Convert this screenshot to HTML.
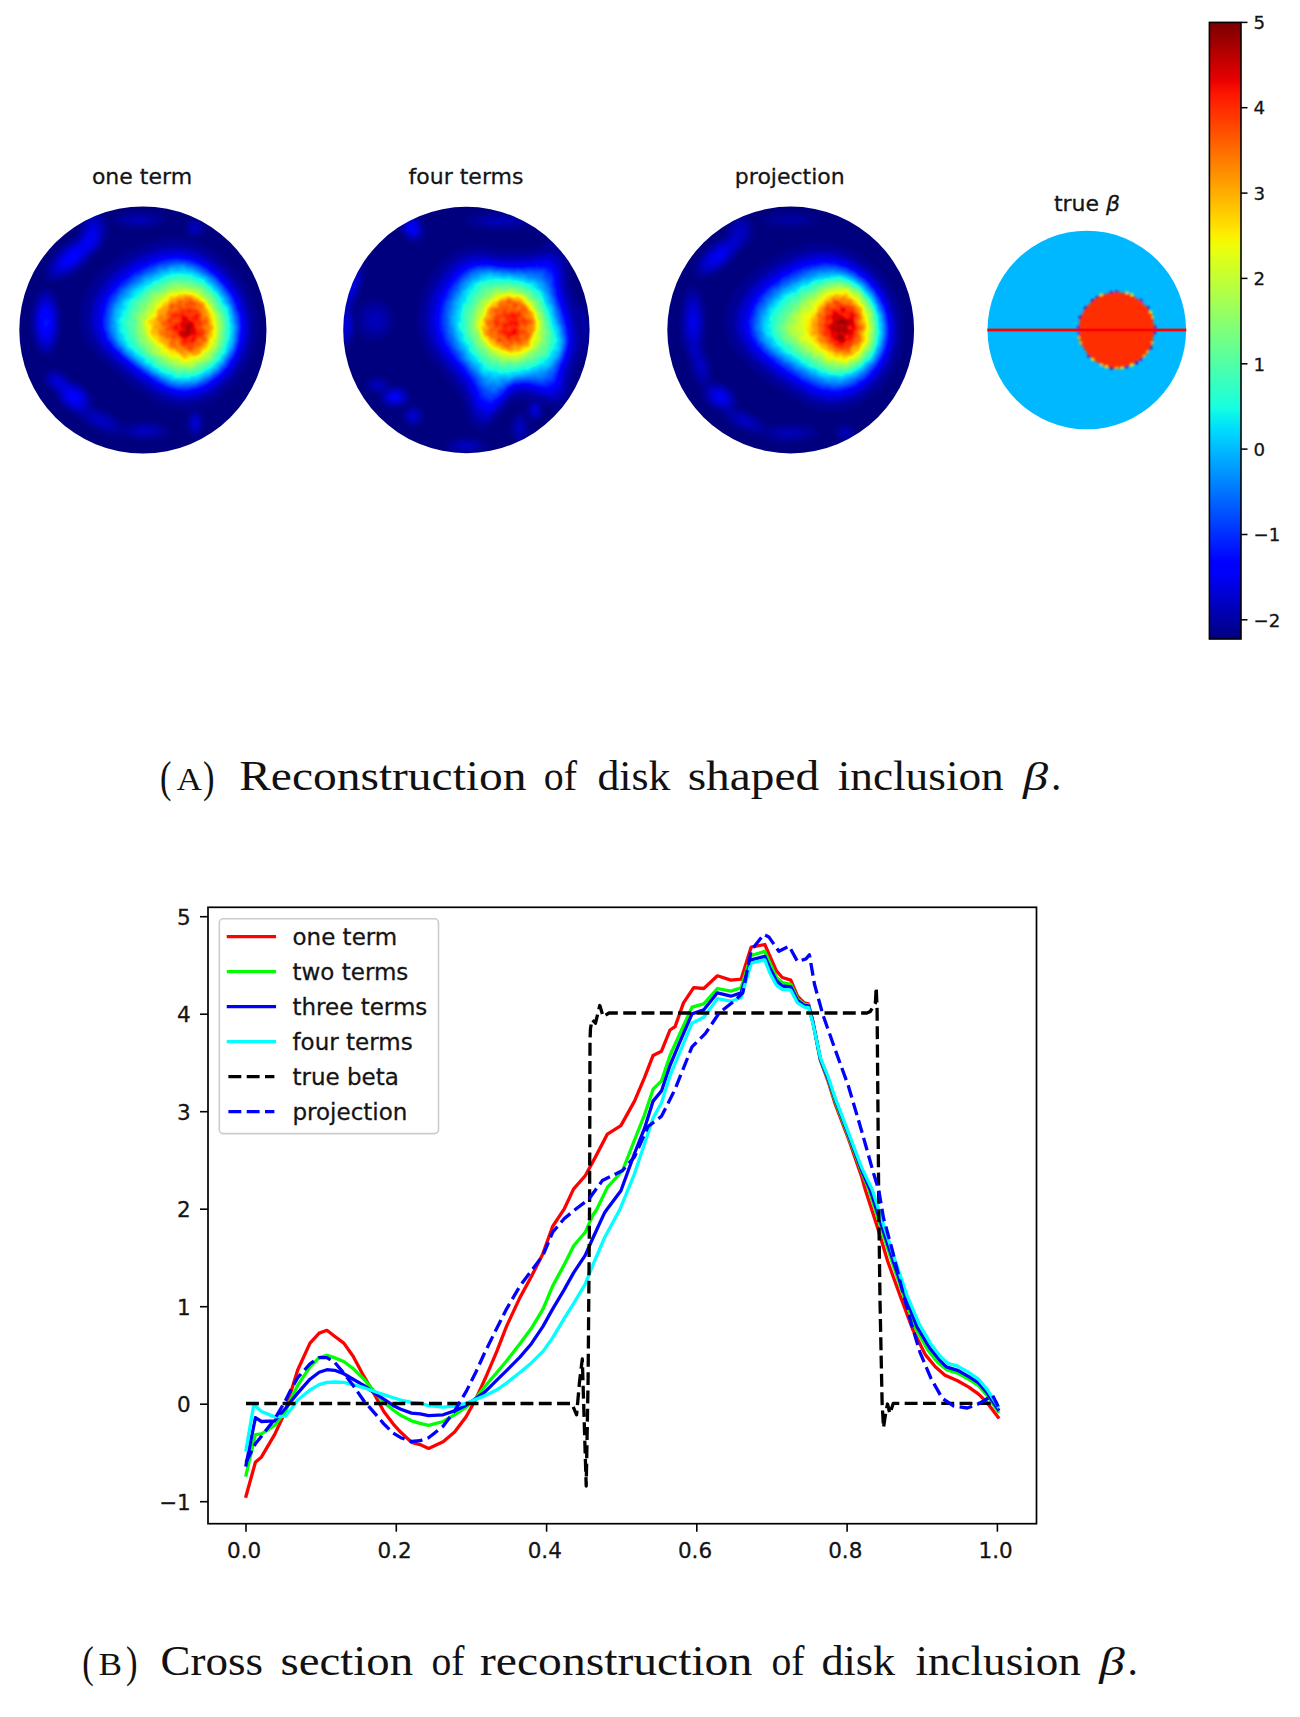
<!DOCTYPE html><html><head><meta charset="utf-8"><title>figure</title>
<style>html,body{margin:0;padding:0;background:#fff}body{width:1300px;height:1717px;overflow:hidden;position:relative}svg{position:absolute;left:0;top:0;display:block}text{font-family:"DejaVu Sans","Liberation Sans",sans-serif;fill:#141414;stroke:#141414;stroke-width:0.28px}.cap text,text.cap{font-family:"Liberation Serif","DejaVu Serif",serif;fill:#111;stroke:none}</style></head><body>
<svg width="1300" height="1717" viewBox="0 0 1300 1717">
<defs>
<filter id="jet" x="0" y="0" width="100%" height="100%" color-interpolation-filters="sRGB"><feComponentTransfer><feFuncR type="table" tableValues="0.000 0.000 0.000 0.000 0.000 0.000 0.000 0.000 0.000 0.000 0.000 0.000 0.000 0.000 0.000 0.000 0.000 0.000 0.000 0.000 0.000 0.000 0.000 0.035 0.085 0.136 0.187 0.237 0.288 0.338 0.389 0.440 0.490 0.541 0.591 0.642 0.693 0.743 0.794 0.844 0.895 0.946 0.996 1.000 1.000 1.000 1.000 1.000 1.000 1.000 1.000 1.000 1.000 1.000 1.000 1.000 1.000 0.981 0.910 0.839 0.767 0.696 0.625 0.553 0.500"/><feFuncG type="table" tableValues="0.000 0.000 0.000 0.000 0.000 0.000 0.000 0.000 0.002 0.065 0.127 0.190 0.253 0.316 0.378 0.441 0.504 0.567 0.629 0.692 0.755 0.818 0.880 0.943 1.000 1.000 1.000 1.000 1.000 1.000 1.000 1.000 1.000 1.000 1.000 1.000 1.000 1.000 1.000 1.000 1.000 0.988 0.930 0.872 0.814 0.756 0.698 0.640 0.582 0.524 0.466 0.407 0.349 0.291 0.233 0.175 0.117 0.059 0.001 0.000 0.000 0.000 0.000 0.000 0.000"/><feFuncB type="table" tableValues="0.500 0.571 0.643 0.714 0.785 0.857 0.928 0.999 1.000 1.000 1.000 1.000 1.000 1.000 1.000 1.000 1.000 1.000 1.000 1.000 1.000 1.000 0.984 0.933 0.882 0.832 0.781 0.731 0.680 0.629 0.579 0.528 0.478 0.427 0.376 0.326 0.275 0.225 0.174 0.123 0.073 0.022 0.000 0.000 0.000 0.000 0.000 0.000 0.000 0.000 0.000 0.000 0.000 0.000 0.000 0.000 0.000 0.000 0.000 0.000 0.000 0.000 0.000 0.000 0.000"/></feComponentTransfer></filter>
<filter id="b3" x="-50%" y="-50%" width="200%" height="200%"><feGaussianBlur stdDeviation="5"/></filter>
<filter id="b2" x="-50%" y="-50%" width="200%" height="200%"><feGaussianBlur stdDeviation="3"/></filter>
<filter id="soft2" x="-5%" y="-5%" width="110%" height="110%"><feGaussianBlur stdDeviation="0.85"/></filter>
<filter id="soft" x="-5%" y="-5%" width="110%" height="110%"><feGaussianBlur stdDeviation="0.7"/></filter>
<radialGradient id="g1" gradientUnits="userSpaceOnUse" cx="170.0" cy="325.0" r="78.0" fx="188.0" fy="329.0" ><stop offset="0.000" stop-color="#fff" stop-opacity="1.000"/><stop offset="0.100" stop-color="#fff" stop-opacity="0.970"/><stop offset="0.220" stop-color="#fff" stop-opacity="0.900"/><stop offset="0.330" stop-color="#fff" stop-opacity="0.820"/><stop offset="0.450" stop-color="#fff" stop-opacity="0.640"/><stop offset="0.580" stop-color="#fff" stop-opacity="0.460"/><stop offset="0.720" stop-color="#fff" stop-opacity="0.300"/><stop offset="0.850" stop-color="#fff" stop-opacity="0.150"/><stop offset="0.940" stop-color="#fff" stop-opacity="0.060"/><stop offset="1.000" stop-color="#fff" stop-opacity="0.000"/></radialGradient>
<radialGradient id="g2" gradientUnits="userSpaceOnUse" cx="502.0" cy="326.0" r="70.0" fx="511.5" fy="328.0" ><stop offset="0.000" stop-color="#fff" stop-opacity="0.930"/><stop offset="0.100" stop-color="#fff" stop-opacity="0.910"/><stop offset="0.220" stop-color="#fff" stop-opacity="0.860"/><stop offset="0.330" stop-color="#fff" stop-opacity="0.780"/><stop offset="0.450" stop-color="#fff" stop-opacity="0.620"/><stop offset="0.580" stop-color="#fff" stop-opacity="0.450"/><stop offset="0.720" stop-color="#fff" stop-opacity="0.300"/><stop offset="0.850" stop-color="#fff" stop-opacity="0.150"/><stop offset="0.940" stop-color="#fff" stop-opacity="0.060"/><stop offset="1.000" stop-color="#fff" stop-opacity="0.000"/></radialGradient>
<radialGradient id="g3" gradientUnits="userSpaceOnUse" cx="817.0" cy="328.0" r="75.0" fx="841.0" fy="328.0" gradientTransform="translate(0 328) scale(1 0.92) translate(0 -328)"><stop offset="0.000" stop-color="#fff" stop-opacity="1.000"/><stop offset="0.100" stop-color="#fff" stop-opacity="0.980"/><stop offset="0.220" stop-color="#fff" stop-opacity="0.920"/><stop offset="0.330" stop-color="#fff" stop-opacity="0.830"/><stop offset="0.450" stop-color="#fff" stop-opacity="0.640"/><stop offset="0.580" stop-color="#fff" stop-opacity="0.460"/><stop offset="0.720" stop-color="#fff" stop-opacity="0.300"/><stop offset="0.850" stop-color="#fff" stop-opacity="0.150"/><stop offset="0.940" stop-color="#fff" stop-opacity="0.060"/><stop offset="1.000" stop-color="#fff" stop-opacity="0.000"/></radialGradient>
<radialGradient id="pt"><stop offset="0" stop-color="#fff" stop-opacity="1"/><stop offset="0.5" stop-color="#fff" stop-opacity="0.55"/><stop offset="1" stop-color="#fff" stop-opacity="0"/></radialGradient>
<linearGradient id="cb" x1="0" y1="1" x2="0" y2="0">
<stop offset="0.0000" stop-color="#000080"/>
<stop offset="0.0156" stop-color="#000092"/>
<stop offset="0.0312" stop-color="#0000a4"/>
<stop offset="0.0469" stop-color="#0000b6"/>
<stop offset="0.0625" stop-color="#0000c8"/>
<stop offset="0.0781" stop-color="#0000da"/>
<stop offset="0.0938" stop-color="#0000ed"/>
<stop offset="0.1094" stop-color="#0000ff"/>
<stop offset="0.1250" stop-color="#0000ff"/>
<stop offset="0.1406" stop-color="#0010ff"/>
<stop offset="0.1562" stop-color="#0020ff"/>
<stop offset="0.1719" stop-color="#0030ff"/>
<stop offset="0.1875" stop-color="#0040ff"/>
<stop offset="0.2031" stop-color="#0050ff"/>
<stop offset="0.2188" stop-color="#0060ff"/>
<stop offset="0.2344" stop-color="#0070ff"/>
<stop offset="0.2500" stop-color="#0080ff"/>
<stop offset="0.2656" stop-color="#0090ff"/>
<stop offset="0.2812" stop-color="#00a0ff"/>
<stop offset="0.2969" stop-color="#00b0ff"/>
<stop offset="0.3125" stop-color="#00c0ff"/>
<stop offset="0.3281" stop-color="#00d0ff"/>
<stop offset="0.3438" stop-color="#00e0fb"/>
<stop offset="0.3594" stop-color="#09f0ee"/>
<stop offset="0.3750" stop-color="#16ffe1"/>
<stop offset="0.3906" stop-color="#23ffd4"/>
<stop offset="0.4062" stop-color="#30ffc7"/>
<stop offset="0.4219" stop-color="#3cffba"/>
<stop offset="0.4375" stop-color="#49ffad"/>
<stop offset="0.4531" stop-color="#56ffa0"/>
<stop offset="0.4688" stop-color="#63ff94"/>
<stop offset="0.4844" stop-color="#70ff87"/>
<stop offset="0.5000" stop-color="#7dff7a"/>
<stop offset="0.5156" stop-color="#8aff6d"/>
<stop offset="0.5312" stop-color="#97ff60"/>
<stop offset="0.5469" stop-color="#a4ff53"/>
<stop offset="0.5625" stop-color="#b1ff46"/>
<stop offset="0.5781" stop-color="#beff39"/>
<stop offset="0.5938" stop-color="#caff2c"/>
<stop offset="0.6094" stop-color="#d7ff1f"/>
<stop offset="0.6250" stop-color="#e4ff13"/>
<stop offset="0.6406" stop-color="#f1fc06"/>
<stop offset="0.6562" stop-color="#feed00"/>
<stop offset="0.6719" stop-color="#ffde00"/>
<stop offset="0.6875" stop-color="#ffd000"/>
<stop offset="0.7031" stop-color="#ffc100"/>
<stop offset="0.7188" stop-color="#ffb200"/>
<stop offset="0.7344" stop-color="#ffa300"/>
<stop offset="0.7500" stop-color="#ff9400"/>
<stop offset="0.7656" stop-color="#ff8600"/>
<stop offset="0.7812" stop-color="#ff7700"/>
<stop offset="0.7969" stop-color="#ff6800"/>
<stop offset="0.8125" stop-color="#ff5900"/>
<stop offset="0.8281" stop-color="#ff4a00"/>
<stop offset="0.8438" stop-color="#ff3b00"/>
<stop offset="0.8594" stop-color="#ff2d00"/>
<stop offset="0.8750" stop-color="#ff1e00"/>
<stop offset="0.8906" stop-color="#fa0f00"/>
<stop offset="0.9062" stop-color="#e80000"/>
<stop offset="0.9219" stop-color="#d60000"/>
<stop offset="0.9375" stop-color="#c40000"/>
<stop offset="0.9531" stop-color="#b20000"/>
<stop offset="0.9688" stop-color="#9f0000"/>
<stop offset="0.9844" stop-color="#8d0000"/>
<stop offset="1.0000" stop-color="#800000"/>
</linearGradient>
<clipPath id="cdisc"><circle cx="142.9" cy="330" r="123.6"/><circle cx="466.4" cy="330" r="123.2"/><circle cx="790.7" cy="330" r="123.4"/></clipPath>
<filter id="jetn" filterUnits="userSpaceOnUse" x="0" y="195" width="940" height="270" color-interpolation-filters="sRGB"><feGaussianBlur in="SourceGraphic" stdDeviation="2.2" result="bl"/><feTurbulence type="fractalNoise" baseFrequency="0.16" numOctaves="1" seed="3" result="tn"/><feColorMatrix in="tn" type="matrix" values="1 0 0 0 0 1 0 0 0 0 1 0 0 0 0 0 0 0 0 1" result="ng"/><feComposite in="bl" in2="ng" operator="arithmetic" k1="0.16" k2="0.92" k3="0" k4="0" result="nz"/><feComponentTransfer in="nz"><feFuncR type="table" tableValues="0.000 0.000 0.000 0.000 0.000 0.000 0.000 0.000 0.000 0.000 0.000 0.000 0.000 0.000 0.000 0.000 0.000 0.000 0.000 0.000 0.000 0.000 0.000 0.035 0.085 0.136 0.187 0.237 0.288 0.338 0.389 0.440 0.490 0.541 0.591 0.642 0.693 0.743 0.794 0.844 0.895 0.946 0.996 1.000 1.000 1.000 1.000 1.000 1.000 1.000 1.000 1.000 1.000 1.000 1.000 1.000 1.000 0.981 0.910 0.839 0.767 0.696 0.625 0.553 0.500"/><feFuncG type="table" tableValues="0.000 0.000 0.000 0.000 0.000 0.000 0.000 0.000 0.002 0.065 0.127 0.190 0.253 0.316 0.378 0.441 0.504 0.567 0.629 0.692 0.755 0.818 0.880 0.943 1.000 1.000 1.000 1.000 1.000 1.000 1.000 1.000 1.000 1.000 1.000 1.000 1.000 1.000 1.000 1.000 1.000 0.988 0.930 0.872 0.814 0.756 0.698 0.640 0.582 0.524 0.466 0.407 0.349 0.291 0.233 0.175 0.117 0.059 0.001 0.000 0.000 0.000 0.000 0.000 0.000"/><feFuncB type="table" tableValues="0.500 0.571 0.643 0.714 0.785 0.857 0.928 0.999 1.000 1.000 1.000 1.000 1.000 1.000 1.000 1.000 1.000 1.000 1.000 1.000 1.000 1.000 0.984 0.933 0.882 0.832 0.781 0.731 0.680 0.629 0.579 0.528 0.478 0.427 0.376 0.326 0.275 0.225 0.174 0.123 0.073 0.022 0.000 0.000 0.000 0.000 0.000 0.000 0.000 0.000 0.000 0.000 0.000 0.000 0.000 0.000 0.000 0.000 0.000 0.000 0.000 0.000 0.000 0.000 0.000"/><feFuncA type="linear" slope="0" intercept="1"/></feComponentTransfer></filter>
</defs>
<rect width="1300" height="1717" fill="#fff"/>
<g filter="url(#soft)"><g clip-path="url(#cdisc)"><g filter="url(#jetn)">
<rect x="0" y="195" width="940" height="270" fill="#000000"/>
<ellipse cx="72.0" cy="257.0" rx="35.2" ry="15.0" fill="url(#pt)" opacity="0.14" transform="rotate(-40 72.0 257.0)"/>
<ellipse cx="93.0" cy="232.0" rx="15.8" ry="22.9" fill="url(#pt)" opacity="0.10" transform="rotate(10 93.0 232.0)"/>
<ellipse cx="46.0" cy="322.0" rx="15.0" ry="35.2" fill="url(#pt)" opacity="0.16" transform="rotate(0 46.0 322.0)"/>
<ellipse cx="74.0" cy="397.0" rx="21.1" ry="15.0" fill="url(#pt)" opacity="0.14" transform="rotate(35 74.0 397.0)"/>
<ellipse cx="57.0" cy="381.0" rx="15.8" ry="11.4" fill="url(#pt)" opacity="0.09" transform="rotate(30 57.0 381.0)"/>
<ellipse cx="100.0" cy="420.0" rx="31.7" ry="11.4" fill="url(#pt)" opacity="0.07" transform="rotate(25 100.0 420.0)"/>
<ellipse cx="145.0" cy="431.0" rx="26.4" ry="9.7" fill="url(#pt)" opacity="0.07" transform="rotate(0 145.0 431.0)"/>
<ellipse cx="195.0" cy="423.0" rx="8.8" ry="15.0" fill="url(#pt)" opacity="0.09" transform="rotate(0 195.0 423.0)"/>
<ellipse cx="195.0" cy="228.0" rx="10.6" ry="10.6" fill="url(#pt)" opacity="0.07" transform="rotate(0 195.0 228.0)"/>
<ellipse cx="139.0" cy="220.0" rx="29.9" ry="8.8" fill="url(#pt)" opacity="0.06" transform="rotate(0 139.0 220.0)"/>
<ellipse cx="412.0" cy="228.0" rx="12.3" ry="15.8" fill="url(#pt)" opacity="0.13" transform="rotate(-30 412.0 228.0)"/>
<ellipse cx="352.0" cy="285.0" rx="10.6" ry="31.7" fill="url(#pt)" opacity="0.10" transform="rotate(15 352.0 285.0)"/>
<ellipse cx="347.0" cy="325.0" rx="7.9" ry="24.6" fill="url(#pt)" opacity="0.10" transform="rotate(0 347.0 325.0)"/>
<ellipse cx="375.0" cy="320.0" rx="21.1" ry="22.9" fill="url(#pt)" opacity="0.06" transform="rotate(0 375.0 320.0)"/>
<ellipse cx="548.0" cy="260.0" rx="14.0" ry="20.0" fill="url(#pt)" opacity="0.19" transform="rotate(25 548.0 260.0)"/>
<ellipse cx="556.0" cy="391.0" rx="12.0" ry="14.0" fill="url(#pt)" opacity="0.19" transform="rotate(0 556.0 391.0)"/>
<ellipse cx="535.0" cy="410.0" rx="8.8" ry="11.4" fill="url(#pt)" opacity="0.10" transform="rotate(0 535.0 410.0)"/>
<ellipse cx="395.0" cy="397.0" rx="15.8" ry="11.4" fill="url(#pt)" opacity="0.13" transform="rotate(0 395.0 397.0)"/>
<ellipse cx="413.0" cy="416.0" rx="10.6" ry="11.4" fill="url(#pt)" opacity="0.09" transform="rotate(0 413.0 416.0)"/>
<ellipse cx="378.0" cy="385.0" rx="13.2" ry="8.8" fill="url(#pt)" opacity="0.07" transform="rotate(0 378.0 385.0)"/>
<ellipse cx="466.0" cy="446.0" rx="22.9" ry="8.8" fill="url(#pt)" opacity="0.07" transform="rotate(0 466.0 446.0)"/>
<ellipse cx="520.0" cy="428.0" rx="9.7" ry="17.6" fill="url(#pt)" opacity="0.07" transform="rotate(0 520.0 428.0)"/>
<ellipse cx="500.0" cy="221.0" rx="38.7" ry="9.7" fill="url(#pt)" opacity="0.06" transform="rotate(0 500.0 221.0)"/>
<ellipse cx="576.0" cy="332.0" rx="13.0" ry="34.0" fill="url(#pt)" opacity="0.13" transform="rotate(0 576.0 332.0)"/>
<ellipse cx="718.0" cy="256.0" rx="31.7" ry="14.1" fill="url(#pt)" opacity="0.12" transform="rotate(-40 718.0 256.0)"/>
<ellipse cx="740.0" cy="232.0" rx="15.0" ry="19.4" fill="url(#pt)" opacity="0.07" transform="rotate(10 740.0 232.0)"/>
<ellipse cx="693.0" cy="322.0" rx="13.2" ry="38.7" fill="url(#pt)" opacity="0.11" transform="rotate(0 693.0 322.0)"/>
<ellipse cx="700.0" cy="365.0" rx="11.4" ry="26.4" fill="url(#pt)" opacity="0.07" transform="rotate(-15 700.0 365.0)"/>
<ellipse cx="720.0" cy="397.0" rx="20.2" ry="14.1" fill="url(#pt)" opacity="0.12" transform="rotate(35 720.0 397.0)"/>
<ellipse cx="745.0" cy="421.0" rx="26.4" ry="10.6" fill="url(#pt)" opacity="0.07" transform="rotate(25 745.0 421.0)"/>
<ellipse cx="790.0" cy="433.0" rx="31.7" ry="9.7" fill="url(#pt)" opacity="0.06" transform="rotate(0 790.0 433.0)"/>
<ellipse cx="845.0" cy="433.0" rx="10.6" ry="9.7" fill="url(#pt)" opacity="0.06" transform="rotate(0 845.0 433.0)"/>
<ellipse cx="790.0" cy="220.0" rx="31.7" ry="8.8" fill="url(#pt)" opacity="0.04" transform="rotate(0 790.0 220.0)"/>
<polygon points="256.5,329.0 255.8,337.9 254.3,346.8 251.2,355.3 247.2,363.4 243.0,371.5 237.8,379.2 231.3,385.9 224.2,392.3 216.3,398.4 207.4,403.0 197.8,406.6 187.6,408.8 177.1,408.5 166.9,406.0 157.3,402.0 148.4,396.9 139.8,391.2 131.3,385.2 122.8,378.7 114.0,371.5 104.6,363.3 94.9,353.8 86.2,342.3 80.9,329.0 80.0,314.8 82.6,300.8 88.4,287.9 96.5,276.4 106.2,266.5 116.9,258.3 128.1,251.4 139.6,245.9 151.5,242.0 163.6,239.3 175.7,238.7 187.6,240.1 198.9,243.3 209.0,249.0 218.0,255.5 226.1,262.2 233.1,269.6 239.3,277.2 244.8,285.0 249.1,293.4 252.3,302.2 255.0,310.9 256.6,319.9" fill="#050505"/>
<polygon points="249.3,329.0 248.7,337.0 247.3,345.0 244.6,352.6 241.0,359.8 237.2,367.1 232.6,374.0 226.8,380.0 220.4,385.8 213.4,391.2 205.4,395.5 196.8,398.6 187.6,400.7 178.2,400.5 169.0,398.1 160.4,394.6 152.4,389.9 144.7,384.8 137.0,379.5 129.3,373.7 121.4,367.2 112.9,359.9 104.1,351.3 96.2,341.0 91.4,329.0 90.5,316.2 92.9,303.6 98.1,291.9 105.5,281.6 114.2,272.7 123.9,265.3 134.0,259.1 144.4,254.2 155.1,250.6 165.9,248.2 176.9,247.7 187.6,249.0 197.7,251.9 206.8,257.1 214.9,263.0 222.2,269.0 228.4,275.7 234.0,282.6 238.9,289.6 242.7,297.1 245.6,304.9 248.0,312.8 249.4,320.8" fill="#111111"/>
<polygon points="243.6,329.0 242.9,336.3 241.7,343.5 239.3,350.4 236.1,357.0 232.6,363.5 228.4,369.8 223.1,375.3 217.3,380.5 211.0,385.4 203.7,389.3 195.9,392.2 187.6,394.1 179.0,393.9 170.7,391.8 162.9,388.6 155.6,384.4 148.6,379.8 141.6,374.9 134.6,369.6 127.3,363.8 119.5,357.1 111.4,349.4 104.2,339.9 99.9,329.0 99.0,317.3 101.2,305.8 106.0,295.2 112.8,285.8 120.8,277.8 129.7,271.1 138.8,265.5 148.3,261.0 158.1,257.7 167.9,255.5 177.8,255.1 187.6,256.2 196.8,258.9 205.1,263.6 212.4,269.0 219.0,274.5 224.7,280.6 229.6,286.9 234.1,293.3 237.6,300.1 240.1,307.2 242.3,314.3 243.6,321.6" fill="#1d1d1d"/>
<polygon points="241.4,329.0 240.8,336.0 239.6,342.9 237.3,349.6 234.3,355.9 230.9,362.2 226.8,368.2 221.8,373.6 216.2,378.5 210.0,383.1 203.1,386.8 195.6,389.6 187.6,391.3 179.4,391.2 171.4,389.3 163.8,386.3 156.8,382.3 150.0,377.9 143.2,373.3 136.4,368.3 129.3,362.6 121.8,356.2 114.0,348.7 107.2,339.5 103.2,329.0 102.5,317.8 104.7,306.7 109.4,296.6 116.1,287.7 123.9,280.1 132.4,273.7 141.1,268.4 150.1,264.1 159.4,260.8 168.7,258.6 178.2,258.0 187.6,259.1 196.4,261.7 204.4,266.2 211.4,271.4 217.8,276.7 223.2,282.6 227.9,288.6 232.2,294.7 235.5,301.3 238.0,308.1 240.1,314.9 241.4,321.9" fill="#292929"/>
<polygon points="239.3,329.0 238.6,335.7 237.5,342.3 235.4,348.8 232.5,354.9 229.2,360.9 225.3,366.7 220.5,371.9 215.0,376.5 209.0,380.7 202.4,384.3 195.2,386.9 187.6,388.5 179.7,388.5 172.1,386.9 164.8,384.0 158.0,380.2 151.4,376.1 144.8,371.7 138.2,366.9 131.3,361.5 124.0,355.3 116.6,348.0 110.2,339.2 106.5,329.0 105.9,318.2 108.1,307.7 112.8,298.0 119.3,289.6 126.9,282.4 135.0,276.4 143.4,271.4 151.9,267.2 160.6,263.9 169.5,261.6 178.6,260.9 187.6,262.0 196.1,264.5 203.7,268.8 210.5,273.7 216.5,278.8 221.7,284.5 226.2,290.3 230.2,296.2 233.5,302.5 235.9,309.0 237.9,315.5 239.2,322.2" fill="#343434"/>
<polygon points="237.2,329.0 236.5,335.4 235.3,341.8 233.5,348.0 230.8,353.9 227.5,359.6 223.7,365.1 219.2,370.2 213.9,374.5 208.0,378.4 201.7,381.8 194.9,384.3 187.6,385.7 180.1,385.8 172.7,384.4 165.8,381.7 159.2,378.2 152.8,374.3 146.4,370.1 140.0,365.5 133.2,360.3 126.3,354.3 119.2,347.3 113.2,338.8 109.8,329.0 109.3,318.7 111.5,308.6 116.2,299.4 122.6,291.4 129.9,284.7 137.7,279.1 145.7,274.3 153.7,270.3 161.9,267.0 170.3,264.6 179.0,263.9 187.6,264.9 195.7,267.3 203.0,271.3 209.5,276.1 215.3,281.0 220.2,286.4 224.5,292.1 228.3,297.7 231.4,303.6 233.7,309.8 235.6,316.1 237.0,322.5" fill="#404040"/>
<polygon points="235.0,329.0 234.3,335.1 233.2,341.2 231.6,347.2 229.0,352.9 225.8,358.3 222.2,363.6 217.9,368.5 212.7,372.5 207.1,376.0 201.1,379.3 194.5,381.7 187.6,382.9 180.4,383.2 173.4,382.0 166.7,379.3 160.4,376.1 154.1,372.5 148.0,368.5 141.8,364.1 135.2,359.2 128.5,353.4 121.8,346.6 116.1,338.4 113.1,329.0 112.8,319.1 114.9,309.5 119.5,300.8 125.8,293.3 132.9,287.0 140.4,281.8 147.9,277.3 155.5,273.4 163.2,270.1 171.2,267.7 179.4,266.8 187.6,267.8 195.3,270.1 202.3,273.9 208.5,278.4 214.0,283.1 218.8,288.3 222.8,293.8 226.4,299.2 229.4,304.8 231.6,310.7 233.4,316.7 234.8,322.7" fill="#4c4c4c"/>
<polygon points="232.7,329.0 232.0,334.8 231.0,340.6 229.5,346.3 227.1,351.8 223.9,356.8 220.5,361.9 216.4,366.6 211.5,370.3 206.1,373.6 200.4,376.7 194.2,379.0 187.6,380.1 180.8,380.3 174.1,379.3 167.7,376.9 161.7,373.8 155.7,370.5 149.8,366.7 143.8,362.6 137.6,357.8 131.3,352.3 125.1,345.7 119.8,337.9 117.0,329.0 116.8,319.6 118.9,310.6 123.3,302.4 129.4,295.3 136.0,289.4 143.0,284.4 150.2,280.2 157.3,276.5 164.5,273.3 172.0,270.9 179.8,270.0 187.6,270.9 194.9,273.0 201.6,276.6 207.5,280.9 212.7,285.4 217.2,290.3 221.0,295.6 224.3,300.7 227.2,306.1 229.4,311.7 231.0,317.3 232.4,323.1" fill="#585858"/>
<polygon points="229.8,329.0 229.2,334.4 228.4,339.9 227.0,345.3 224.7,350.4 221.7,355.2 218.5,359.9 214.8,364.4 210.1,367.9 205.0,371.0 199.6,374.0 193.8,376.2 187.6,377.1 181.2,377.2 174.9,376.3 168.9,374.1 163.2,371.2 157.5,368.1 152.0,364.6 146.3,360.6 140.7,356.0 135.1,350.7 129.6,344.5 124.9,337.2 122.3,329.0 122.1,320.3 124.0,311.9 128.0,304.3 133.4,297.7 139.4,292.0 145.7,287.1 152.4,283.1 159.1,279.7 165.9,276.7 173.0,274.5 180.3,273.8 187.6,274.6 194.5,276.5 200.8,279.6 206.4,283.6 211.3,287.9 215.6,292.5 219.1,297.4 222.2,302.4 224.8,307.5 226.9,312.7 228.4,318.0 229.5,323.4" fill="#646464"/>
<polygon points="226.9,329.0 226.5,334.1 225.9,339.2 224.6,344.3 222.3,349.0 219.5,353.5 216.6,358.0 213.1,362.2 208.7,365.5 203.9,368.4 198.9,371.3 193.4,373.4 187.6,374.1 181.6,374.0 175.7,373.2 170.1,371.2 164.7,368.6 159.4,365.7 154.1,362.4 148.9,358.6 143.9,354.2 139.0,349.1 134.1,343.3 130.1,336.5 127.6,329.0 127.4,321.0 129.2,313.3 132.7,306.2 137.5,300.1 142.7,294.5 148.4,289.8 154.6,286.0 160.9,282.8 167.4,280.1 174.0,278.1 180.8,277.6 187.6,278.4 194.0,279.9 200.0,282.6 205.2,286.4 209.9,290.4 213.9,294.6 217.2,299.3 220.0,304.1 222.4,308.8 224.4,313.7 225.8,318.7 226.7,323.8" fill="#707070"/>
<polygon points="224.0,329.0 223.8,333.7 223.3,338.5 222.1,343.3 220.0,347.7 217.4,351.8 214.6,356.0 211.4,360.0 207.3,363.1 202.9,365.9 198.2,368.6 193.1,370.6 187.6,371.2 182.1,370.9 176.6,370.1 171.2,368.4 166.2,366.0 161.3,363.3 156.3,360.3 151.4,356.7 147.0,352.4 142.8,347.5 138.7,342.1 135.2,335.9 132.9,329.0 132.6,321.7 134.3,314.7 137.4,308.2 141.6,302.4 146.1,297.1 151.1,292.5 156.8,288.8 162.8,286.0 168.8,283.5 174.9,281.7 181.3,281.4 187.6,282.1 193.6,283.3 199.2,285.6 204.1,289.1 208.4,292.8 212.3,296.8 215.4,301.2 217.9,305.7 220.0,310.2 221.9,314.8 223.2,319.4 223.9,324.2" fill="#7b7b7b"/>
<polygon points="221.1,329.0 221.0,333.4 220.7,337.8 219.6,342.2 217.6,346.3 215.2,350.1 212.7,354.1 209.7,357.8 205.9,360.7 201.8,363.3 197.5,365.9 192.7,367.9 187.6,368.2 182.5,367.7 177.4,367.0 172.4,365.6 167.7,363.4 163.1,360.8 158.4,358.1 154.0,354.7 150.2,350.5 146.6,345.9 143.2,340.8 140.3,335.2 138.2,329.0 137.9,322.4 139.4,316.1 142.1,310.1 145.7,304.8 149.4,299.7 153.8,295.1 159.0,291.7 164.6,289.2 170.2,286.9 175.9,285.4 181.8,285.2 187.6,285.8 193.1,286.7 198.4,288.7 203.0,291.8 207.0,295.3 210.6,298.9 213.5,303.0 215.7,307.4 217.6,311.6 219.4,315.8 220.6,320.1 221.1,324.6" fill="#878787"/>
<polygon points="218.7,329.0 218.6,333.1 218.3,337.2 217.2,341.2 215.4,345.0 213.3,348.7 210.9,352.3 208.0,355.6 204.6,358.4 200.8,360.8 196.8,363.2 192.3,364.9 187.6,365.2 182.9,364.8 178.2,364.0 173.6,362.6 169.3,360.6 165.1,358.2 160.9,355.7 156.8,352.6 153.3,348.7 150.1,344.5 147.0,339.8 144.3,334.7 142.3,329.0 141.9,323.0 143.5,317.1 146.0,311.7 149.2,306.8 152.6,302.1 156.5,297.9 161.2,294.5 166.3,292.1 171.4,290.0 176.7,288.5 182.2,288.2 187.6,288.7 192.8,289.6 197.7,291.4 202.0,294.2 205.7,297.5 209.1,301.0 211.8,304.8 213.8,308.8 215.6,312.8 217.1,316.7 218.2,320.8 218.6,324.9" fill="#939393"/>
<polygon points="216.7,329.0 216.5,332.8 215.8,336.5 214.8,340.2 213.3,343.8 211.5,347.3 209.2,350.6 206.4,353.5 203.2,356.1 199.8,358.4 196.0,360.4 191.9,361.7 187.6,362.2 183.2,362.0 179.0,361.1 174.9,359.6 171.1,357.6 167.3,355.4 163.5,353.0 159.9,350.2 156.5,346.9 153.2,343.2 150.1,339.0 147.5,334.2 145.4,329.0 145.1,323.4 146.7,318.0 149.3,313.1 152.3,308.6 155.6,304.4 159.2,300.6 163.3,297.4 167.9,294.9 172.6,292.9 177.5,291.3 182.5,290.6 187.6,291.1 192.4,292.2 197.0,293.8 201.1,296.3 204.6,299.5 207.6,302.9 210.1,306.4 212.2,310.1 213.8,313.8 215.1,317.6 216.0,321.4 216.5,325.2" fill="#9f9f9f"/>
<polygon points="214.6,329.0 214.3,332.5 213.4,335.9 212.4,339.2 211.3,342.6 209.8,346.0 207.5,348.9 204.8,351.4 201.9,353.8 198.8,356.0 195.3,357.7 191.5,358.6 187.6,359.1 183.6,359.2 179.7,358.2 176.2,356.5 172.8,354.6 169.4,352.6 166.1,350.4 162.9,347.9 159.6,345.1 156.3,341.9 153.3,338.1 150.7,333.8 148.5,329.0 148.2,323.8 150.0,318.9 152.6,314.5 155.4,310.4 158.6,306.7 162.0,303.3 165.5,300.2 169.5,297.6 173.8,295.7 178.2,294.1 182.9,293.1 187.6,293.4 192.1,294.7 196.3,296.3 200.2,298.4 203.5,301.4 206.1,304.8 208.4,308.1 210.5,311.4 212.1,314.8 213.0,318.4 213.7,322.0 214.3,325.4" fill="#ababab"/>
<polygon points="212.4,329.0 212.1,332.2 211.3,335.3 210.2,338.3 209.2,341.4 207.9,344.5 205.9,347.2 203.4,349.5 200.7,351.7 197.9,353.9 194.7,355.4 191.2,356.1 187.6,356.3 184.0,356.1 180.6,355.1 177.4,353.5 174.4,351.8 171.5,350.0 168.5,348.0 165.6,345.8 162.6,343.4 159.7,340.5 157.1,337.1 154.7,333.3 152.7,329.0 152.4,324.3 153.9,319.9 156.0,315.9 158.3,312.0 161.0,308.6 164.0,305.4 167.1,302.3 170.7,299.7 174.6,297.7 178.8,296.1 183.1,295.0 187.6,295.0 191.9,296.2 195.9,297.8 199.7,299.8 202.7,302.7 205.1,306.1 207.1,309.4 209.0,312.6 210.3,315.8 211.1,319.2 211.6,322.5 212.1,325.7" fill="#b7b7b7"/>
<polygon points="210.1,329.0 209.9,331.9 209.2,334.7 208.1,337.5 207.1,340.2 205.9,343.0 204.3,345.6 202.0,347.8 199.6,349.8 197.0,351.8 194.1,353.3 190.8,353.8 187.6,353.5 184.4,352.8 181.4,351.9 178.6,350.6 176.0,349.0 173.5,347.4 170.9,345.7 168.2,343.8 165.6,341.6 163.2,339.0 161.1,336.1 158.9,332.7 157.1,329.0 156.8,324.9 157.9,321.0 159.4,317.3 161.1,313.7 163.3,310.3 165.9,307.3 168.6,304.3 171.7,301.5 175.3,299.3 179.2,297.8 183.3,296.7 187.6,296.4 191.7,297.4 195.6,299.0 199.2,301.0 202.1,303.8 204.2,307.3 205.9,310.6 207.4,313.7 208.6,316.8 209.2,320.0 209.5,323.1 209.8,326.0" fill="#c3c3c3"/>
<polygon points="207.2,329.0 207.1,331.5 206.5,334.0 205.6,336.4 204.6,338.8 203.6,341.3 202.3,343.6 200.3,345.6 198.2,347.3 195.9,349.2 193.4,350.6 190.5,351.0 187.6,350.3 184.9,349.3 182.4,348.4 180.0,347.3 177.8,345.9 175.7,344.5 173.5,343.0 171.2,341.5 169.0,339.7 167.2,337.4 165.5,334.9 163.6,332.1 162.1,329.0 161.9,325.6 162.6,322.3 163.5,319.0 164.7,315.7 166.3,312.7 168.5,309.9 170.8,307.1 173.3,304.3 176.5,302.2 180.0,300.8 183.7,299.7 187.6,299.2 191.4,299.9 194.9,301.5 198.2,303.4 200.8,306.0 202.7,309.3 204.0,312.5 205.3,315.4 206.2,318.2 206.7,321.1 206.8,323.8 207.0,326.4" fill="#cecece"/>
<polygon points="202.1,329.0 202.0,330.9 201.6,332.7 201.0,334.5 200.4,336.4 199.7,338.3 198.7,340.1 197.3,341.6 195.6,342.9 194.0,344.3 192.0,345.6 189.8,345.9 187.6,345.4 185.5,344.5 183.6,343.7 181.8,342.8 180.2,341.8 178.7,340.6 177.2,339.4 175.6,338.1 174.1,336.7 172.8,335.1 171.7,333.2 170.4,331.2 169.4,329.0 169.2,326.5 169.8,324.2 170.5,321.9 171.3,319.6 172.5,317.4 173.9,315.3 175.5,313.3 177.3,311.2 179.6,309.7 182.1,308.7 184.8,307.8 187.6,307.3 190.4,307.7 193.0,308.9 195.3,310.4 197.2,312.3 198.6,314.6 199.7,316.9 200.7,318.9 201.4,321.0 201.7,323.1 201.8,325.1 202.0,327.1" fill="#dadada"/>
<polygon points="197.0,329.0 196.9,330.2 196.8,331.4 196.5,332.7 196.2,334.0 195.8,335.3 195.1,336.5 194.2,337.6 193.1,338.5 192.0,339.5 190.7,340.5 189.2,340.9 187.6,340.5 186.2,339.8 184.9,339.1 183.7,338.4 182.6,337.6 181.7,336.6 180.8,335.7 180.0,334.8 179.2,333.8 178.5,332.7 177.8,331.6 177.1,330.3 176.6,329.0 176.6,327.5 177.0,326.1 177.4,324.8 177.9,323.4 178.6,322.1 179.4,320.8 180.3,319.4 181.3,318.2 182.7,317.2 184.3,316.6 185.9,316.0 187.6,315.5 189.3,315.6 191.0,316.3 192.4,317.4 193.6,318.6 194.5,319.9 195.3,321.2 196.0,322.5 196.6,323.8 196.8,325.1 196.9,326.5 196.9,327.7" fill="#e6e6e6"/>
<polygon points="192.0,329.0 192.0,329.6 192.0,330.2 192.1,330.8 192.1,331.5 191.9,332.3 191.6,333.0 191.1,333.5 190.5,334.1 189.9,334.7 189.3,335.3 188.5,335.7 187.6,335.5 186.8,334.9 186.1,334.4 185.5,333.9 185.0,333.4 184.6,332.8 184.4,332.2 184.2,331.6 183.9,331.1 183.7,330.5 183.5,330.0 183.3,329.5 183.2,329.0 183.3,328.4 183.5,327.9 183.7,327.4 183.9,326.9 184.2,326.3 184.4,325.8 184.6,325.1 185.0,324.6 185.6,324.1 186.2,323.8 186.9,323.5 187.6,323.1 188.4,323.0 189.1,323.3 189.7,323.9 190.2,324.4 190.7,324.9 191.2,325.4 191.6,325.9 191.9,326.4 192.1,327.1 192.0,327.8 192.0,328.4" fill="#f2f2f2"/>
<polygon points="188.0,329.0 188.0,329.0 188.0,329.1 188.0,329.1 188.0,329.2 188.0,329.3 188.0,329.4 187.9,329.4 187.9,329.5 187.8,329.5 187.7,329.6 187.7,329.6 187.6,329.6 187.5,329.5 187.4,329.5 187.4,329.4 187.3,329.4 187.3,329.3 187.3,329.3 187.2,329.2 187.2,329.2 187.2,329.1 187.2,329.1 187.2,329.0 187.2,329.0 187.2,328.9 187.2,328.9 187.2,328.8 187.2,328.8 187.2,328.7 187.3,328.7 187.3,328.6 187.3,328.5 187.4,328.5 187.4,328.5 187.5,328.4 187.6,328.4 187.7,328.4 187.7,328.4 187.8,328.5 187.8,328.5 187.9,328.6 187.9,328.6 188.0,328.7 188.0,328.7 188.0,328.8 188.0,328.8 188.0,328.9" fill="#fefefe"/>
<polygon points="583.0,327.9 584.1,337.5 584.0,347.3 581.7,357.0 578.2,366.4 574.5,376.2 572.2,388.5 568.8,402.4 557.8,408.0 542.9,403.5 530.9,399.8 521.1,399.9 511.6,402.0 500.1,415.2 483.9,431.3 471.1,425.7 465.5,407.8 460.0,395.2 453.4,386.1 446.6,377.8 439.6,369.5 432.6,360.6 426.2,350.8 421.3,339.8 418.3,327.9 417.8,315.6 419.5,303.2 423.1,291.2 428.6,280.0 435.6,269.6 443.8,260.1 453.6,252.3 465.2,247.6 477.8,246.2 490.2,247.8 501.3,249.9 511.6,250.2 521.9,249.6 532.8,248.7 545.5,246.2 559.1,245.6 567.5,255.1 569.1,270.4 570.6,282.6 573.5,292.2 576.2,301.2 578.9,309.9 581.3,318.8" fill="#050505"/>
<polygon points="576.1,327.9 577.2,336.6 577.1,345.5 575.0,354.2 571.9,362.7 568.6,371.6 566.5,382.8 563.5,395.6 553.6,400.6 540.0,396.4 529.0,393.0 520.2,393.0 511.6,394.9 501.2,407.1 486.4,421.9 474.8,416.8 469.8,400.4 464.8,388.9 458.9,380.6 452.7,373.1 446.4,365.6 440.0,357.6 434.2,348.7 429.6,338.7 426.9,327.9 426.4,316.7 428.0,305.5 431.2,294.6 436.3,284.4 442.6,275.0 450.0,266.3 458.9,259.3 469.5,255.0 480.9,253.8 492.2,255.4 502.3,257.3 511.6,257.6 520.9,257.0 530.8,256.2 542.3,253.8 554.8,253.2 562.3,261.8 563.7,275.8 565.0,287.0 567.6,295.6 570.0,303.7 572.4,311.6 574.6,319.6" fill="#101010"/>
<polygon points="569.9,327.9 570.9,335.7 570.9,343.8 569.1,351.7 566.3,359.5 563.2,367.5 561.3,377.6 558.5,389.1 549.5,393.6 537.2,389.8 527.4,386.8 519.4,386.8 511.6,388.5 502.2,399.5 488.8,412.9 478.3,408.3 473.7,393.5 469.2,383.2 463.9,375.6 458.3,368.8 452.5,362.0 446.8,354.8 441.5,346.7 437.4,337.7 434.9,327.9 434.4,317.8 435.8,307.6 438.7,297.7 443.3,288.5 449.0,279.9 455.7,272.0 463.8,265.6 473.4,261.7 483.8,260.7 494.0,262.2 503.2,263.9 511.6,264.2 520.1,263.7 529.0,263.0 539.4,260.9 550.6,260.4 557.5,268.2 558.7,280.8 559.8,290.9 562.2,298.7 564.3,306.1 566.5,313.2 568.5,320.4" fill="#1b1b1b"/>
<polygon points="567.5,327.9 568.8,335.4 569.0,343.3 567.4,351.0 564.6,358.5 561.4,366.1 558.9,375.2 555.4,385.0 546.9,389.1 535.8,386.4 526.7,384.3 519.1,384.6 511.6,386.2 502.8,395.2 490.7,406.1 480.8,402.2 475.9,389.9 471.2,380.6 466.0,373.5 460.7,367.0 455.4,360.4 450.1,353.4 445.2,345.7 441.3,337.2 438.8,327.9 438.3,318.3 439.5,308.6 442.3,299.2 446.5,290.4 451.9,282.1 458.2,274.5 465.8,268.3 475.0,264.4 484.9,263.4 494.7,264.7 503.5,266.2 511.6,266.6 519.7,266.4 528.2,266.0 537.8,264.8 547.9,265.0 554.4,272.2 556.1,283.5 557.5,292.7 559.8,300.1 562.0,307.1 564.0,313.9 566.0,320.8" fill="#262626"/>
<polygon points="565.2,327.9 566.6,335.2 567.0,342.8 565.6,350.3 562.9,357.5 559.5,364.7 556.4,372.7 552.3,381.0 544.4,384.6 534.4,383.0 526.0,381.8 518.8,382.4 511.6,383.8 503.3,390.9 492.5,399.3 483.4,396.2 478.0,386.2 473.1,378.1 468.1,371.4 463.1,365.1 458.2,358.8 453.3,352.1 448.8,344.7 445.2,336.7 442.7,327.9 442.2,318.8 443.3,309.6 445.9,300.7 449.8,292.2 454.7,284.3 460.6,276.9 467.9,270.9 476.5,267.1 486.0,266.1 495.3,267.2 503.8,268.5 511.6,269.0 519.4,269.0 527.4,269.1 536.1,268.7 545.2,269.7 551.3,276.2 553.4,286.1 555.2,294.5 557.5,301.4 559.6,308.1 561.6,314.5 563.5,321.1" fill="#313131"/>
<polygon points="562.8,327.9 564.4,334.9 565.1,342.2 563.9,349.6 561.2,356.6 557.7,363.3 553.9,370.2 549.2,376.9 541.8,380.1 533.0,379.7 525.4,379.3 518.5,380.1 511.6,381.5 503.9,386.6 494.3,392.4 485.9,390.1 480.1,382.5 475.1,375.5 470.3,369.3 465.6,363.3 461.0,357.2 456.6,350.7 452.5,343.8 449.1,336.2 446.7,327.9 446.0,319.3 447.1,310.6 449.4,302.2 453.1,294.1 457.6,286.5 463.1,279.4 469.9,273.6 478.1,269.9 487.1,268.7 496.0,269.7 504.1,270.8 511.6,271.4 519.0,271.6 526.6,272.1 534.5,272.6 542.6,274.3 548.2,280.2 550.8,288.7 552.8,296.3 555.1,302.8 557.2,309.1 559.1,315.2 561.0,321.4" fill="#3c3c3c"/>
<polygon points="560.4,327.9 562.2,334.6 563.1,341.7 562.2,348.9 559.5,355.6 555.8,361.8 551.5,367.8 546.1,372.9 539.2,375.7 531.6,376.3 524.7,376.8 518.2,377.9 511.6,379.2 504.5,382.3 496.2,385.6 488.4,384.0 482.2,378.8 477.0,373.0 472.4,367.1 468.0,361.4 463.8,355.5 459.8,349.4 456.2,342.8 453.0,335.6 450.6,327.9 449.9,319.8 450.9,311.6 453.0,303.7 456.3,296.0 460.4,288.6 465.5,281.8 472.0,276.2 479.6,272.6 488.2,271.4 496.7,272.1 504.4,273.1 511.6,273.8 518.7,274.2 525.8,275.1 532.9,276.6 539.9,279.0 545.2,284.2 548.2,291.4 550.5,298.1 552.8,304.1 554.8,310.0 556.7,315.9 558.5,321.7" fill="#474747"/>
<polygon points="558.0,327.9 560.0,334.3 561.2,341.2 560.5,348.2 557.9,354.6 554.0,360.4 549.0,365.3 543.0,368.8 536.6,371.2 530.2,372.9 524.1,374.3 517.9,375.7 511.6,376.8 505.0,378.0 498.0,378.8 490.9,378.0 484.3,375.2 479.0,370.4 474.5,365.0 470.4,359.6 466.6,353.9 463.1,348.0 459.8,341.8 456.9,335.1 454.6,327.9 453.8,320.3 454.7,312.7 456.6,305.1 459.6,297.9 463.3,290.8 468.0,284.3 474.0,278.9 481.2,275.3 489.3,274.1 497.3,274.6 504.7,275.5 511.6,276.1 518.3,276.8 524.9,278.2 531.3,280.5 537.2,283.6 542.1,288.2 545.5,294.0 548.2,299.9 550.5,305.5 552.4,311.0 554.2,316.5 556.1,322.1" fill="#525252"/>
<polygon points="555.2,327.9 556.9,333.9 557.9,340.3 557.1,346.8 554.8,352.8 551.1,358.2 546.3,362.6 540.7,365.8 534.8,368.0 529.0,369.9 523.3,371.4 517.5,372.7 511.6,373.7 505.5,374.3 499.1,374.5 492.6,373.8 486.5,371.5 481.4,367.3 477.1,362.4 473.2,357.4 469.6,352.2 466.3,346.7 463.3,340.9 460.6,334.6 458.5,327.9 457.8,320.8 458.6,313.7 460.5,306.7 463.2,300.0 466.6,293.4 470.9,287.2 476.5,282.2 483.2,278.7 490.7,277.3 498.1,277.6 505.1,278.2 511.6,278.8 518.0,279.6 524.2,281.0 530.0,283.5 535.5,286.6 540.0,290.9 543.4,296.1 546.0,301.5 548.3,306.8 550.1,312.0 551.8,317.2 553.5,322.4" fill="#5d5d5d"/>
<polygon points="552.4,327.9 553.7,333.5 554.2,339.3 553.4,345.2 551.3,350.8 548.0,355.8 543.6,359.9 538.5,362.9 533.1,365.2 527.8,366.9 522.4,368.3 517.1,369.5 511.6,370.4 506.0,370.8 500.1,370.8 494.2,370.0 488.6,367.8 483.9,364.1 479.8,359.8 476.0,355.2 472.7,350.4 469.5,345.3 466.7,340.0 464.3,334.2 462.3,327.9 461.8,321.4 462.7,314.8 464.4,308.4 466.9,302.1 470.1,296.0 474.0,290.3 479.1,285.6 485.2,282.2 492.1,280.7 498.9,280.6 505.4,281.0 511.6,281.5 517.6,282.3 523.4,283.9 528.9,286.2 534.0,289.2 538.2,293.3 541.4,298.2 543.9,303.1 546.1,308.0 547.8,312.9 549.4,317.8 550.9,322.8" fill="#686868"/>
<polygon points="549.5,327.9 550.4,333.0 550.5,338.4 549.7,343.7 547.9,348.9 544.9,353.4 540.9,357.2 536.3,360.1 531.5,362.4 526.6,364.0 521.6,365.3 516.7,366.4 511.6,367.0 506.4,367.2 501.1,367.1 495.7,366.3 490.7,364.2 486.4,360.8 482.5,357.1 478.9,353.1 475.7,348.7 472.8,344.0 470.1,339.0 467.9,333.7 466.2,327.9 465.8,321.9 466.7,315.9 468.3,310.0 470.6,304.2 473.5,298.7 477.1,293.4 481.8,289.0 487.3,285.8 493.5,284.1 499.8,283.7 505.8,283.9 511.6,284.3 517.3,285.1 522.7,286.7 527.8,289.0 532.5,291.8 536.4,295.6 539.4,300.2 541.8,304.7 543.9,309.3 545.6,313.9 546.9,318.5 548.2,323.1" fill="#737373"/>
<polygon points="546.6,327.9 547.1,332.6 546.9,337.4 546.0,342.2 544.4,346.9 541.8,351.1 538.2,354.5 534.2,357.3 529.9,359.5 525.3,361.1 520.8,362.2 516.3,363.2 511.6,363.7 506.9,363.7 502.1,363.4 497.3,362.5 492.8,360.5 488.8,357.6 485.2,354.4 481.7,350.9 478.7,346.9 476.0,342.7 473.6,338.1 471.5,333.2 470.1,327.9 469.8,322.4 470.7,317.0 472.2,311.6 474.3,306.4 476.9,301.3 480.2,296.5 484.4,292.4 489.4,289.4 494.9,287.5 500.6,286.7 506.2,286.7 511.6,287.0 516.9,287.8 521.9,289.5 526.6,291.7 531.0,294.4 534.6,298.0 537.3,302.2 539.7,306.4 541.8,310.5 543.3,314.8 544.5,319.1 545.6,323.4" fill="#7e7e7e"/>
<polygon points="543.7,327.9 543.8,332.2 543.2,336.4 542.3,340.6 541.0,344.9 538.7,348.7 535.5,351.8 532.0,354.5 528.2,356.7 524.1,358.1 520.0,359.2 515.8,360.0 511.6,360.4 507.4,360.1 503.1,359.7 498.8,358.8 494.9,356.9 491.3,354.4 487.8,351.7 484.6,348.7 481.8,345.1 479.3,341.3 477.0,337.2 475.2,332.7 474.0,327.9 473.9,323.0 474.8,318.1 476.1,313.2 478.0,308.5 480.4,304.0 483.3,299.6 487.0,295.9 491.4,293.0 496.3,290.8 501.4,289.7 506.6,289.5 511.6,289.7 516.5,290.5 521.2,292.3 525.5,294.4 529.5,297.0 532.8,300.4 535.3,304.2 537.6,308.0 539.6,311.8 541.1,315.7 542.1,319.8 543.0,323.8" fill="#898989"/>
<polygon points="541.4,327.9 541.2,331.8 540.4,335.6 539.4,339.4 538.2,343.3 536.1,346.7 533.3,349.6 530.2,352.2 526.9,354.3 523.2,355.9 519.4,357.0 515.5,357.7 511.6,357.9 507.7,357.7 503.8,357.1 499.9,356.1 496.4,354.3 493.1,352.1 489.8,349.8 486.7,347.1 484.0,343.9 481.5,340.4 479.3,336.6 477.6,332.4 476.5,327.9 476.6,323.3 477.5,318.8 478.7,314.3 480.5,309.9 482.7,305.8 485.5,301.8 488.9,298.3 492.9,295.5 497.3,293.4 502.0,292.1 506.8,291.6 511.6,291.8 516.3,292.7 520.6,294.3 524.7,296.3 528.4,298.8 531.4,302.1 533.9,305.6 536.0,309.2 537.8,312.8 539.1,316.6 540.0,320.3 540.8,324.1" fill="#949494"/>
<polygon points="539.2,327.9 538.8,331.5 537.8,335.0 536.8,338.4 535.7,341.8 533.9,345.0 531.4,347.7 528.6,350.0 525.6,352.2 522.4,353.9 518.9,355.1 515.3,355.7 511.6,355.9 508.0,355.7 504.3,355.1 500.9,353.9 497.6,352.2 494.5,350.2 491.4,348.1 488.5,345.7 485.8,342.8 483.4,339.6 481.2,336.1 479.6,332.1 478.6,327.9 478.7,323.6 479.7,319.4 480.8,315.2 482.4,311.1 484.7,307.2 487.3,303.6 490.5,300.3 494.1,297.6 498.2,295.6 502.6,294.1 507.1,293.4 511.6,293.6 516.0,294.5 520.2,295.9 524.1,297.8 527.5,300.4 530.3,303.6 532.7,306.8 534.7,310.2 536.2,313.8 537.2,317.3 538.0,320.9 538.8,324.3" fill="#9f9f9f"/>
<polygon points="537.0,327.9 536.4,331.2 535.3,334.3 534.3,337.3 533.1,340.4 531.6,343.3 529.5,345.8 527.0,347.9 524.4,350.0 521.6,352.0 518.4,353.3 515.0,353.8 511.6,353.8 508.2,353.7 504.9,353.0 501.8,351.7 498.8,350.1 495.9,348.4 493.0,346.5 490.3,344.3 487.7,341.8 485.2,338.9 483.1,335.6 481.5,331.9 480.6,327.9 480.9,323.9 481.8,319.9 482.9,316.0 484.3,312.2 486.6,308.7 489.2,305.5 492.0,302.4 495.4,299.8 499.1,297.8 503.1,296.2 507.3,295.2 511.6,295.4 515.8,296.3 519.8,297.5 523.5,299.2 526.6,302.0 529.2,305.0 531.5,308.0 533.3,311.3 534.5,314.7 535.3,318.1 536.0,321.4 536.8,324.6" fill="#aaaaaa"/>
<polygon points="535.3,327.9 534.7,331.0 533.6,333.8 532.5,336.6 531.4,339.4 530.1,342.1 528.1,344.4 525.8,346.4 523.3,348.2 520.8,350.0 517.9,351.4 514.8,351.9 511.6,351.9 508.5,351.6 505.5,350.9 502.6,349.7 499.9,348.2 497.2,346.7 494.5,345.0 491.9,343.1 489.4,340.8 487.0,338.1 485.2,335.0 483.6,331.6 482.7,327.9 483.0,324.2 483.9,320.5 484.8,316.8 486.1,313.2 488.1,309.9 490.6,306.9 493.2,304.0 496.3,301.4 499.8,299.5 503.6,297.9 507.5,296.8 511.6,296.8 515.6,297.7 519.4,298.8 523.0,300.4 526.0,303.0 528.4,306.1 530.5,309.0 532.3,312.1 533.3,315.4 534.0,318.7 534.6,321.8 535.1,324.8" fill="#b5b5b5"/>
<polygon points="533.9,327.9 533.4,330.8 532.4,333.5 531.2,336.0 530.1,338.6 528.8,341.1 527.1,343.4 524.8,345.1 522.4,346.7 520.0,348.1 517.4,349.4 514.5,350.1 511.6,350.0 508.8,349.5 506.0,348.8 503.4,347.8 500.9,346.6 498.4,345.2 495.9,343.6 493.4,341.9 491.0,339.8 488.9,337.3 487.2,334.5 485.7,331.3 484.8,327.9 485.0,324.4 485.8,321.0 486.6,317.6 487.7,314.1 489.5,311.0 491.8,308.1 494.3,305.4 497.1,302.8 500.4,300.9 504.0,299.4 507.7,298.3 511.6,298.0 515.5,298.8 519.1,299.9 522.6,301.4 525.5,303.9 527.7,306.9 529.7,309.9 531.3,312.8 532.4,315.9 532.9,319.1 533.3,322.1 533.7,325.0" fill="#c0c0c0"/>
<polygon points="532.4,327.9 532.0,330.6 531.1,333.1 529.9,335.5 528.7,337.8 527.6,340.2 526.0,342.3 523.9,343.9 521.5,345.1 519.2,346.3 516.8,347.4 514.3,348.2 511.6,348.2 509.0,347.5 506.6,346.6 504.2,345.8 501.8,344.9 499.5,343.7 497.3,342.3 495.0,340.7 492.7,338.9 490.8,336.5 489.3,333.9 487.9,331.0 486.9,327.9 487.1,324.7 487.7,321.5 488.4,318.3 489.4,315.1 490.9,312.0 493.0,309.4 495.4,306.8 498.0,304.3 501.0,302.3 504.4,301.0 507.9,299.8 511.6,299.2 515.3,299.8 518.8,301.0 522.2,302.5 525.0,304.8 527.1,307.7 528.8,310.7 530.4,313.5 531.4,316.5 531.9,319.5 532.1,322.4 532.3,325.2" fill="#cbcbcb"/>
<polygon points="526.1,327.9 525.8,329.8 525.2,331.6 524.3,333.2 523.5,334.8 522.7,336.4 521.6,337.9 520.1,339.0 518.5,339.8 516.9,340.7 515.2,341.5 513.5,342.1 511.6,342.0 509.8,341.5 508.1,340.9 506.5,340.4 504.8,339.7 503.2,338.9 501.7,337.9 500.0,336.8 498.4,335.5 497.1,333.9 496.1,332.1 495.1,330.1 494.5,327.9 494.5,325.7 495.0,323.5 495.5,321.2 496.1,319.0 497.2,316.9 498.7,315.0 500.3,313.2 502.1,311.4 504.2,310.1 506.6,309.1 509.0,308.3 511.6,307.9 514.2,308.3 516.7,309.1 519.0,310.1 521.0,311.7 522.4,313.8 523.6,315.9 524.7,317.9 525.4,320.0 525.7,322.1 525.9,324.1 526.0,326.0" fill="#d6d6d6"/>
<polygon points="519.2,327.9 519.1,328.9 518.8,329.8 518.3,330.7 517.9,331.6 517.5,332.4 516.9,333.2 516.1,333.8 515.2,334.2 514.4,334.6 513.5,335.1 512.6,335.4 511.6,335.3 510.7,335.1 509.8,334.8 508.9,334.5 508.0,334.1 507.2,333.7 506.4,333.2 505.5,332.6 504.7,331.9 504.0,331.1 503.4,330.1 502.9,329.1 502.6,327.9 502.6,326.7 502.9,325.6 503.1,324.4 503.4,323.2 504.0,322.1 504.8,321.1 505.6,320.1 506.6,319.2 507.7,318.5 509.0,318.0 510.3,317.6 511.6,317.3 513.0,317.6 514.3,318.0 515.5,318.5 516.5,319.4 517.3,320.5 518.0,321.6 518.5,322.6 518.9,323.7 519.1,324.8 519.1,325.9 519.2,326.9" fill="#e1e1e1"/>
<polygon points="512.4,327.9 512.4,328.0 512.4,328.1 512.3,328.2 512.3,328.3 512.2,328.4 512.2,328.5 512.1,328.5 512.0,328.6 511.9,328.6 511.8,328.7 511.7,328.7 511.6,328.7 511.5,328.7 511.4,328.6 511.3,328.6 511.2,328.6 511.2,328.5 511.1,328.5 511.0,328.4 510.9,328.3 510.8,328.3 510.8,328.2 510.7,328.0 510.7,327.9 510.7,327.8 510.7,327.7 510.7,327.6 510.8,327.4 510.8,327.3 510.9,327.2 511.0,327.1 511.1,327.0 511.2,326.9 511.3,326.9 511.5,326.8 511.6,326.8 511.8,326.8 511.9,326.9 512.0,326.9 512.1,327.0 512.2,327.1 512.3,327.3 512.3,327.4 512.4,327.5 512.4,327.6 512.4,327.7 512.4,327.8" fill="#ececec"/>
<polygon points="902.9,327.9 903.0,336.2 901.9,344.6 899.8,352.8 897.0,361.0 893.3,369.0 888.6,376.7 883.0,384.3 876.4,391.4 868.7,397.8 860.0,403.5 850.3,407.8 839.8,410.3 828.9,410.7 818.0,409.0 807.6,405.6 797.8,400.7 788.3,395.0 778.8,388.8 769.1,382.2 758.9,374.6 748.3,365.8 738.1,355.2 729.4,342.4 724.6,327.9 725.6,312.9 731.0,298.8 739.0,286.2 748.9,275.5 759.9,266.7 771.3,259.4 782.5,253.3 793.9,248.4 805.5,245.1 817.2,243.6 828.7,244.1 839.8,246.5 850.0,250.4 859.2,255.4 867.5,260.9 874.8,267.2 881.1,274.0 886.9,280.8 891.7,288.1 895.3,295.8 898.5,303.6 901.1,311.5 902.4,319.7" fill="#050505"/>
<polygon points="896.3,327.9 896.3,335.4 895.4,342.8 893.5,350.2 891.0,357.5 887.7,364.7 883.5,371.7 878.6,378.5 872.6,384.8 865.7,390.6 858.0,395.8 849.2,399.6 839.8,401.9 830.0,402.4 820.2,400.8 810.9,397.7 802.0,393.3 793.5,388.2 785.0,382.7 776.2,376.7 767.0,369.9 757.4,362.1 748.0,352.5 740.2,341.0 735.8,327.9 736.7,314.3 741.6,301.6 748.8,290.3 757.8,280.6 767.8,272.7 778.1,266.2 788.2,260.7 798.4,256.4 808.9,253.4 819.4,252.0 829.8,252.6 839.8,254.8 848.9,258.3 857.2,262.8 864.7,267.8 871.2,273.5 876.8,279.6 881.9,285.8 886.2,292.3 889.5,299.2 892.3,306.2 894.6,313.2 895.8,320.5" fill="#111111"/>
<polygon points="890.9,327.9 890.9,334.7 890.1,341.4 888.4,348.1 886.2,354.7 883.2,361.2 879.4,367.5 874.9,373.7 869.5,379.4 863.3,384.7 856.2,389.4 848.3,392.9 839.8,394.9 830.9,395.3 822.1,393.9 813.6,391.1 805.6,387.2 797.9,382.5 790.1,377.6 782.1,372.2 773.7,366.1 764.8,359.0 756.2,350.3 749.0,339.9 744.9,327.9 745.7,315.5 750.3,303.9 757.0,293.6 765.2,284.9 774.4,277.7 783.7,271.9 793.0,267.0 802.3,263.0 811.8,260.3 821.3,259.1 830.8,259.6 839.8,261.5 848.1,264.8 855.6,268.8 862.4,273.4 868.2,278.6 873.4,284.2 878.0,289.7 881.8,295.7 884.8,301.9 887.3,308.2 889.4,314.6 890.5,321.2" fill="#1d1d1d"/>
<polygon points="888.9,327.9 888.9,334.4 888.2,340.9 886.5,347.3 884.3,353.6 881.4,359.9 877.7,365.9 873.3,371.6 868.1,377.0 862.2,382.0 855.4,386.3 847.9,389.5 839.8,391.5 831.4,391.8 823.0,390.4 814.9,387.8 807.3,384.1 800.0,379.8 792.5,375.2 784.9,370.1 776.8,364.3 768.2,357.6 759.7,349.4 752.5,339.4 748.6,327.9 749.5,316.0 754.0,305.0 760.6,295.1 768.6,286.9 777.5,280.2 786.5,274.7 795.4,270.1 804.2,266.4 813.2,263.8 822.2,262.5 831.2,262.7 839.8,264.3 847.8,267.3 855.0,271.1 861.5,275.4 867.2,280.5 872.1,285.8 876.5,291.2 880.2,296.9 883.0,303.0 885.4,309.0 887.4,315.1 888.5,321.5" fill="#292929"/>
<polygon points="886.9,327.9 886.9,334.1 886.2,340.4 884.6,346.5 882.4,352.5 879.7,358.5 876.1,364.2 871.7,369.6 866.7,374.6 861.0,379.2 854.6,383.2 847.4,386.2 839.8,388.0 831.8,388.2 824.0,386.9 816.3,384.5 809.1,381.1 802.1,377.0 795.0,372.7 787.7,367.9 779.9,362.5 771.5,356.2 763.1,348.5 756.0,338.9 752.3,327.9 753.3,316.5 757.8,306.0 764.2,296.6 772.1,288.8 780.7,282.6 789.3,277.5 797.8,273.2 806.2,269.8 814.6,267.2 823.2,266.0 831.6,265.9 839.8,267.1 847.4,269.8 854.4,273.4 860.7,277.4 866.1,282.3 870.8,287.5 875.0,292.7 878.5,298.2 881.2,304.0 883.5,309.8 885.5,315.7 886.5,321.8" fill="#343434"/>
<polygon points="884.9,327.9 884.9,333.9 884.3,339.9 882.7,345.7 880.5,351.5 877.9,357.2 874.4,362.6 870.2,367.5 865.3,372.2 859.9,376.5 853.8,380.1 847.0,382.8 839.8,384.6 832.3,384.7 824.9,383.4 817.7,381.2 810.8,378.1 804.2,374.3 797.4,370.3 790.5,365.8 783.0,360.7 774.9,354.8 766.6,347.5 759.6,338.5 756.0,327.9 757.1,317.0 761.6,307.0 767.9,298.1 775.5,290.8 783.8,285.0 792.1,280.3 800.2,276.4 808.1,273.1 816.1,270.7 824.1,269.4 832.0,269.1 839.8,269.9 847.1,272.4 853.8,275.7 859.8,279.5 865.0,284.2 869.5,289.2 873.5,294.2 876.8,299.5 879.4,305.1 881.6,310.6 883.5,316.2 884.6,322.0" fill="#404040"/>
<polygon points="882.8,327.9 882.9,333.6 882.4,339.3 880.9,344.9 878.7,350.4 876.1,355.8 872.8,360.9 868.6,365.5 863.9,369.8 858.8,373.8 852.9,377.0 846.6,379.5 839.8,381.1 832.8,381.2 825.8,379.9 819.1,377.9 812.6,375.0 806.3,371.6 799.9,367.8 793.2,363.6 786.1,358.9 778.2,353.4 770.0,346.6 763.1,338.0 759.7,327.9 760.9,317.5 765.3,308.0 771.5,299.7 778.9,292.8 786.9,287.4 794.9,283.1 802.6,279.5 810.1,276.5 817.5,274.1 825.0,272.8 832.4,272.2 839.8,272.7 846.7,274.9 853.2,277.9 859.0,281.5 863.9,286.1 868.2,290.9 872.0,295.7 875.2,300.8 877.6,306.1 879.7,311.4 881.5,316.7 882.6,322.3" fill="#4c4c4c"/>
<polygon points="880.9,327.9 880.9,333.3 880.4,338.8 879.0,344.2 876.9,349.4 874.4,354.5 871.2,359.4 867.2,363.6 862.7,367.6 857.7,371.3 852.2,374.2 846.2,376.5 839.8,377.9 833.2,377.8 826.7,376.6 820.4,374.8 814.3,372.1 808.4,368.8 802.3,365.4 796.1,361.5 789.3,357.0 781.8,351.9 773.9,345.6 767.2,337.5 763.9,327.9 765.2,318.1 769.5,309.1 775.6,301.3 782.6,294.9 790.2,289.9 797.7,285.9 805.0,282.5 811.9,279.6 818.8,277.3 825.8,275.9 832.8,275.2 839.8,275.3 846.4,277.3 852.6,280.1 858.2,283.4 862.9,287.8 867.0,292.5 870.6,297.1 873.6,301.9 875.9,307.1 877.9,312.1 879.6,317.2 880.6,322.5" fill="#585858"/>
<polygon points="879.0,327.9 879.0,333.1 878.5,338.3 877.3,343.5 875.3,348.5 872.9,353.3 869.8,358.0 866.0,362.1 861.7,365.9 856.9,369.3 851.6,372.1 845.9,374.2 839.8,375.3 833.6,375.0 827.5,373.8 821.6,371.9 815.9,369.3 810.4,366.2 804.8,362.9 799.0,359.2 792.7,355.1 785.7,350.3 778.5,344.3 772.4,336.8 769.3,327.9 770.5,318.8 774.7,310.5 780.4,303.3 786.9,297.4 793.7,292.6 800.5,288.7 807.1,285.3 813.5,282.3 819.9,279.9 826.5,278.4 833.1,277.5 839.8,277.5 846.2,279.3 852.1,281.9 857.5,285.0 862.1,289.2 866.0,293.8 869.5,298.2 872.3,302.9 874.5,307.9 876.3,312.8 877.8,317.7 878.8,322.8" fill="#646464"/>
<polygon points="877.2,327.9 877.1,332.8 876.6,337.8 875.5,342.7 873.8,347.5 871.4,352.2 868.4,356.6 864.8,360.6 860.7,364.2 856.1,367.3 851.0,369.9 845.6,371.9 839.8,372.7 833.9,372.2 828.3,370.9 822.7,369.0 817.5,366.5 812.4,363.6 807.2,360.5 801.8,357.0 796.1,353.2 789.7,348.7 783.2,343.1 777.5,336.1 774.6,327.9 775.9,319.5 780.0,311.9 785.2,305.3 791.1,299.8 797.2,295.3 803.3,291.4 809.2,288.1 815.0,285.0 820.9,282.5 827.2,280.9 833.4,279.8 839.8,279.7 845.9,281.3 851.6,283.7 856.9,286.7 861.3,290.7 864.9,295.1 868.3,299.4 871.1,303.9 873.1,308.7 874.7,313.5 876.0,318.2 876.9,323.0" fill="#707070"/>
<polygon points="875.3,327.9 875.1,332.6 874.7,337.3 873.8,342.0 872.2,346.6 869.8,351.0 867.0,355.1 863.6,359.0 859.7,362.4 855.3,365.3 850.4,367.8 845.3,369.6 839.8,370.0 834.3,369.3 829.0,368.0 823.9,366.2 819.1,363.7 814.5,360.9 809.7,358.0 804.7,354.8 799.4,351.2 793.6,347.0 787.9,341.8 782.7,335.4 780.0,327.9 781.3,320.2 785.2,313.3 790.1,307.3 795.4,302.3 800.7,297.9 806.1,294.2 811.4,290.9 816.6,287.7 822.0,285.1 827.8,283.4 833.7,282.2 839.8,281.9 845.6,283.3 851.1,285.5 856.2,288.3 860.4,292.2 863.9,296.5 867.1,300.6 869.8,304.9 871.7,309.5 873.1,314.1 874.2,318.7 875.1,323.3" fill="#7b7b7b"/>
<polygon points="873.5,327.9 873.2,332.3 872.8,336.8 872.1,341.3 870.6,345.7 868.3,349.8 865.6,353.7 862.5,357.5 858.7,360.7 854.4,363.3 849.9,365.6 845.0,367.3 839.8,367.4 834.7,366.5 829.8,365.1 825.1,363.3 820.7,360.9 816.5,358.3 812.1,355.6 807.6,352.6 802.8,349.3 797.6,345.4 792.6,340.6 787.9,334.7 785.3,327.9 786.6,320.9 790.4,314.7 794.9,309.3 799.6,304.7 804.2,300.6 808.8,297.0 813.5,293.7 818.1,290.4 823.1,287.6 828.5,285.8 834.1,284.5 839.8,284.1 845.4,285.3 850.6,287.4 855.5,289.9 859.6,293.6 862.9,297.8 865.9,301.8 868.5,305.9 870.3,310.3 871.4,314.8 872.5,319.2 873.2,323.5" fill="#878787"/>
<polygon points="871.4,327.9 871.1,332.0 870.7,336.2 870.1,340.5 868.8,344.7 866.6,348.5 864.0,352.2 861.2,355.8 857.6,358.9 853.5,361.2 849.2,363.3 844.6,364.8 839.8,364.7 835.1,363.6 830.6,362.3 826.3,360.5 822.3,358.2 818.5,355.7 814.6,353.1 810.6,350.3 806.4,347.2 801.9,343.6 797.6,339.2 793.8,334.0 791.6,327.9 792.8,321.7 796.1,316.2 799.9,311.4 803.9,307.2 807.7,303.3 811.6,299.8 815.6,296.5 819.7,293.2 824.3,290.5 829.2,288.6 834.4,287.1 839.8,286.6 845.1,287.7 850.1,289.5 854.7,292.0 858.5,295.5 861.7,299.4 864.5,303.2 866.9,307.1 868.4,311.4 869.5,315.6 870.4,319.7 871.2,323.8" fill="#939393"/>
<polygon points="869.1,327.9 868.8,331.7 868.5,335.6 867.9,339.6 866.7,343.5 864.7,347.0 862.4,350.6 859.8,354.1 856.5,356.9 852.6,359.0 848.6,360.9 844.3,362.1 839.8,361.9 835.4,360.8 831.3,359.5 827.4,357.8 823.9,355.5 820.5,353.0 817.1,350.6 813.7,348.0 810.1,345.1 806.4,341.7 803.0,337.8 800.1,333.1 798.5,327.9 799.6,322.6 802.2,317.8 805.0,313.5 808.1,309.6 811.2,306.0 814.4,302.6 817.8,299.2 821.4,296.1 825.5,293.5 830.0,291.5 834.8,289.9 839.8,289.5 844.7,290.3 849.4,291.8 853.7,294.3 857.3,297.6 860.3,301.1 863.0,304.7 865.0,308.6 866.3,312.6 867.4,316.5 868.3,320.3 868.9,324.1" fill="#9f9f9f"/>
<polygon points="866.8,327.9 866.5,331.4 866.3,335.0 865.8,338.7 864.6,342.2 862.8,345.6 860.8,349.0 858.5,352.3 855.3,354.9 851.7,356.8 847.9,358.4 843.9,359.4 839.8,359.1 835.8,358.0 832.0,356.8 828.5,355.0 825.4,352.8 822.5,350.4 819.6,348.1 816.7,345.6 813.8,342.9 810.9,339.9 808.4,336.3 806.4,332.3 805.5,327.9 806.4,323.5 808.2,319.5 810.2,315.7 812.3,312.1 814.7,308.7 817.2,305.4 819.9,302.0 823.1,299.0 826.8,296.6 830.8,294.4 835.1,292.7 839.8,292.3 844.4,292.9 848.8,294.2 852.7,296.7 856.0,299.8 859.0,302.9 861.5,306.2 863.2,310.0 864.2,313.8 865.2,317.4 866.1,320.9 866.7,324.4" fill="#ababab"/>
<polygon points="864.8,327.9 864.6,331.2 864.2,334.5 863.6,337.8 862.6,341.1 861.1,344.3 859.2,347.4 857.0,350.3 854.1,352.8 850.8,354.7 847.3,356.2 843.6,356.8 839.8,356.4 836.2,355.4 832.8,354.1 829.7,352.3 826.9,350.2 824.3,348.1 821.8,345.9 819.4,343.6 817.0,341.1 814.7,338.3 812.7,335.2 811.0,331.7 810.1,327.9 810.7,324.1 812.1,320.5 813.5,317.0 815.1,313.7 817.0,310.5 819.2,307.4 821.6,304.3 824.4,301.4 827.8,299.0 831.4,296.9 835.5,295.2 839.8,294.7 844.1,295.2 848.2,296.3 852.0,298.5 855.1,301.4 857.8,304.4 860.2,307.5 861.8,311.0 862.8,314.7 863.5,318.1 864.3,321.4 864.8,324.6" fill="#b7b7b7"/>
<polygon points="863.0,327.9 862.7,330.9 862.1,333.9 861.5,336.9 860.6,340.0 859.4,343.0 857.7,345.8 855.4,348.3 852.9,350.6 850.0,352.6 846.7,353.9 843.2,354.2 839.8,353.7 836.5,352.8 833.5,351.4 830.8,349.6 828.4,347.7 826.1,345.8 823.9,343.8 821.9,341.7 820.0,339.3 818.3,336.8 816.6,334.1 815.0,331.2 814.1,327.9 814.4,324.6 815.4,321.4 816.3,318.2 817.5,315.1 819.1,312.1 821.0,309.2 823.2,306.3 825.7,303.5 828.7,301.1 832.1,299.3 835.8,297.7 839.8,297.0 843.8,297.4 847.7,298.4 851.3,300.2 854.2,302.9 856.7,305.9 858.9,308.8 860.5,312.0 861.4,315.4 862.0,318.7 862.5,321.8 863.0,324.9" fill="#c3c3c3"/>
<polygon points="860.9,327.9 860.5,330.6 859.8,333.3 859.1,335.9 858.5,338.7 857.5,341.5 855.9,344.0 853.8,346.2 851.5,348.3 849.0,350.3 846.1,351.5 842.9,351.5 839.8,351.1 836.8,350.2 834.2,348.7 831.9,346.9 829.9,345.1 827.9,343.4 826.0,341.6 824.4,339.7 823.1,337.5 821.9,335.3 820.6,333.1 819.2,330.6 818.2,327.9 818.3,325.1 818.9,322.3 819.5,319.5 820.3,316.7 821.5,313.9 823.2,311.3 825.1,308.7 827.2,306.1 829.8,303.8 832.9,302.1 836.2,300.7 839.8,299.7 843.4,300.0 847.0,300.9 850.3,302.4 853.1,304.8 855.3,307.7 857.3,310.4 858.9,313.2 859.7,316.4 860.1,319.5 860.5,322.4 860.8,325.1" fill="#cecece"/>
<polygon points="857.6,327.9 857.2,330.2 856.6,332.4 856.0,334.7 855.4,337.0 854.7,339.3 853.4,341.6 851.8,343.5 849.8,345.3 847.6,346.9 845.2,348.0 842.5,348.5 839.8,348.3 837.2,347.3 835.0,345.7 833.1,344.0 831.4,342.4 829.9,340.8 828.5,339.2 827.4,337.4 826.4,335.6 825.5,333.8 824.6,332.0 823.6,330.0 823.0,327.9 823.1,325.7 823.5,323.6 824.0,321.4 824.5,319.1 825.4,316.9 826.5,314.7 827.9,312.5 829.6,310.4 831.7,308.5 834.1,306.9 836.8,305.4 839.8,304.3 842.8,304.6 845.8,305.5 848.6,306.6 851.0,308.5 853.0,310.7 854.5,313.1 855.8,315.7 856.5,318.3 857.0,320.8 857.4,323.2 857.7,325.6" fill="#dadada"/>
<polygon points="854.4,327.9 853.9,329.8 853.4,331.6 852.9,333.4 852.4,335.2 851.8,337.2 851.0,339.1 849.7,340.9 848.1,342.3 846.2,343.5 844.2,344.6 842.1,345.4 839.8,345.6 837.6,344.4 835.8,342.7 834.3,341.1 833.0,339.7 831.9,338.2 831.0,336.7 830.4,335.1 829.8,333.7 829.2,332.3 828.7,330.9 828.1,329.5 827.7,327.9 827.8,326.3 828.1,324.8 828.4,323.2 828.8,321.6 829.3,319.9 829.9,318.1 830.8,316.3 832.1,314.6 833.7,313.2 835.4,311.7 837.4,310.1 839.8,309.0 842.2,309.1 844.6,310.0 846.8,310.9 848.9,312.1 850.6,313.8 851.8,315.9 852.6,318.1 853.3,320.1 853.8,322.1 854.3,324.0 854.5,326.0" fill="#e6e6e6"/>
<polygon points="849.0,327.9 848.7,329.1 848.4,330.2 848.1,331.4 847.7,332.5 847.4,333.8 846.9,335.1 846.2,336.3 845.1,337.1 843.9,337.9 842.6,338.6 841.3,339.4 839.8,339.7 838.3,338.8 837.2,337.5 836.3,336.4 835.5,335.4 834.9,334.3 834.5,333.2 834.2,332.2 833.9,331.3 833.6,330.5 833.4,329.6 833.1,328.8 833.0,327.9 833.0,327.0 833.2,326.2 833.4,325.3 833.6,324.4 833.8,323.3 834.0,322.2 834.5,321.0 835.2,320.0 836.1,319.1 837.1,318.1 838.3,316.9 839.8,316.0 841.3,316.1 842.8,316.7 844.2,317.3 845.5,317.9 846.7,318.9 847.4,320.3 847.8,321.7 848.3,323.0 848.7,324.2 849.0,325.4 849.2,326.7" fill="#f2f2f2"/>
<polygon points="840.7,327.9 840.6,328.0 840.6,328.1 840.6,328.3 840.5,328.4 840.5,328.5 840.5,328.6 840.4,328.7 840.3,328.8 840.2,328.9 840.0,329.0 839.9,329.0 839.8,329.1 839.6,329.0 839.5,328.9 839.4,328.7 839.4,328.6 839.3,328.5 839.3,328.4 839.2,328.3 839.2,328.3 839.2,328.2 839.1,328.1 839.1,328.0 839.1,327.9 839.1,327.8 839.1,327.8 839.1,327.7 839.2,327.6 839.2,327.5 839.2,327.4 839.3,327.3 839.3,327.2 839.4,327.1 839.5,327.0 839.6,326.9 839.8,326.8 839.9,326.8 840.1,326.8 840.2,326.9 840.3,327.0 840.4,327.0 840.5,327.2 840.6,327.3 840.6,327.4 840.6,327.6 840.7,327.7 840.7,327.8" fill="#fefefe"/>
</g></g></g>
<circle cx="1086.8" cy="330" r="99.3" fill="#00b8ff" filter="url(#soft)"/>
<g filter="url(#soft2)">
<circle cx="1154.3" cy="332.6" r="1.8" fill="#12129a"/>
<circle cx="1152.2" cy="342.6" r="1.5" fill="#ffb000"/>
<circle cx="1150.7" cy="347.7" r="1.8" fill="#12129a"/>
<circle cx="1147.4" cy="351.8" r="1.6" fill="#ffb000"/>
<circle cx="1144.2" cy="355.8" r="1.6" fill="#ffb000"/>
<circle cx="1140.4" cy="359.3" r="1.8" fill="#1a1ab0"/>
<circle cx="1136.4" cy="362.6" r="1.8" fill="#12129a"/>
<circle cx="1131.8" cy="364.9" r="2.0" fill="#d8f020"/>
<circle cx="1126.9" cy="366.8" r="1.6" fill="#1a1ab0"/>
<circle cx="1121.8" cy="367.9" r="1.6" fill="#d8f020"/>
<circle cx="1116.6" cy="367.8" r="1.7" fill="#ffb000"/>
<circle cx="1111.4" cy="368.0" r="1.8" fill="#12129a"/>
<circle cx="1106.3" cy="366.8" r="1.8" fill="#d8f020"/>
<circle cx="1101.4" cy="364.9" r="1.8" fill="#7df08a"/>
<circle cx="1092.8" cy="359.3" r="1.7" fill="#d8f020"/>
<circle cx="1088.9" cy="355.9" r="1.6" fill="#12129a"/>
<circle cx="1080.4" cy="342.9" r="1.6" fill="#ffb000"/>
<circle cx="1078.9" cy="337.8" r="1.6" fill="#ffb000"/>
<circle cx="1079.0" cy="332.6" r="1.9" fill="#2a40d0"/>
<circle cx="1078.7" cy="327.4" r="1.7" fill="#1a1ab0"/>
<circle cx="1080.7" cy="317.3" r="1.9" fill="#12129a"/>
<circle cx="1085.5" cy="308.0" r="1.7" fill="#12129a"/>
<circle cx="1092.8" cy="300.7" r="1.8" fill="#12129a"/>
<circle cx="1097.0" cy="297.7" r="1.6" fill="#12129a"/>
<circle cx="1101.4" cy="295.0" r="1.7" fill="#d8f020"/>
<circle cx="1111.5" cy="292.6" r="1.7" fill="#1a1ab0"/>
<circle cx="1116.6" cy="291.9" r="1.6" fill="#1a1ab0"/>
<circle cx="1127.0" cy="292.9" r="1.9" fill="#7df08a"/>
<circle cx="1131.9" cy="294.8" r="1.7" fill="#d8f020"/>
<circle cx="1140.8" cy="300.3" r="1.9" fill="#2a40d0"/>
<circle cx="1147.9" cy="307.9" r="1.7" fill="#12129a"/>
<circle cx="1150.4" cy="312.5" r="2.0" fill="#d8f020"/>
<circle cx="1152.2" cy="317.4" r="1.6" fill="#d8f020"/>
<circle cx="1154.6" cy="327.4" r="1.8" fill="#12129a"/>
<polygon points="1155.4,330.0 1152.8,332.5 1155.1,335.3 1152.0,337.4 1153.9,340.4 1150.7,342.1 1152.3,345.5 1149.4,347.0 1149.9,350.3 1146.1,350.9 1146.9,354.6 1143.1,354.7 1143.1,358.3 1139.9,358.6 1138.9,361.6 1135.4,360.9 1134.5,364.6 1131.2,363.6 1129.6,366.6 1126.4,365.0 1124.5,368.2 1121.6,366.3 1119.3,369.3 1116.6,366.2 1113.9,369.2 1111.6,366.2 1108.6,368.5 1106.8,365.1 1103.6,366.7 1101.9,363.9 1098.9,364.2 1097.5,361.4 1094.3,361.7 1093.6,358.3 1090.2,358.2 1090.1,354.7 1086.2,354.7 1086.8,351.0 1083.6,350.0 1084.1,346.8 1081.1,345.4 1082.5,342.1 1079.2,340.5 1080.9,337.4 1078.3,335.3 1080.4,332.5 1077.9,330.0 1080.3,327.5 1078.0,324.7 1080.3,322.5 1078.7,319.4 1082.0,317.7 1080.5,314.3 1083.9,313.1 1083.4,309.8 1086.8,309.0 1086.6,305.6 1089.5,304.7 1090.2,301.8 1093.6,301.7 1094.1,298.2 1097.3,298.3 1098.7,295.5 1102.0,296.3 1103.7,293.6 1106.7,294.8 1108.7,291.9 1111.6,293.9 1114.0,291.4 1116.6,293.1 1119.3,290.7 1121.6,293.9 1124.6,291.5 1126.5,294.5 1129.7,293.1 1131.1,296.6 1134.4,295.6 1135.6,298.7 1139.0,298.3 1139.5,301.8 1143.3,301.4 1143.1,305.2 1146.8,305.4 1146.7,308.8 1149.6,309.9 1149.2,313.1 1152.7,314.3 1151.5,317.6 1154.1,319.5 1152.3,322.6 1155.3,324.7 1153.5,327.5" fill="#ff2d00"/>
</g>
<rect x="987.3" y="328.6" width="199" height="2.8" fill="#ff0000"/>
<text x="142.0" y="184" font-size="22" text-anchor="middle">one term</text>
<text x="466.0" y="184" font-size="22" text-anchor="middle">four terms</text>
<text x="789.8" y="184" font-size="22" text-anchor="middle">projection</text>
<text x="1087" y="211" font-size="22" text-anchor="middle">true <tspan font-style="italic">β</tspan></text>
<rect x="1209.4" y="22.4" width="31.6" height="616.6" fill="url(#cb)" stroke="#000" stroke-width="1.6"/>
<line x1="1241.0" y1="619.8" x2="1247.5" y2="619.8" stroke="#000" stroke-width="1.5"/>
<text x="1253.5" y="626.5" font-size="18.2">−2</text>
<line x1="1241.0" y1="534.5" x2="1247.5" y2="534.5" stroke="#000" stroke-width="1.5"/>
<text x="1253.5" y="541.2" font-size="18.2">−1</text>
<line x1="1241.0" y1="449.1" x2="1247.5" y2="449.1" stroke="#000" stroke-width="1.5"/>
<text x="1253.5" y="455.8" font-size="18.2">0</text>
<line x1="1241.0" y1="363.8" x2="1247.5" y2="363.8" stroke="#000" stroke-width="1.5"/>
<text x="1253.5" y="370.5" font-size="18.2">1</text>
<line x1="1241.0" y1="278.4" x2="1247.5" y2="278.4" stroke="#000" stroke-width="1.5"/>
<text x="1253.5" y="285.1" font-size="18.2">2</text>
<line x1="1241.0" y1="193.1" x2="1247.5" y2="193.1" stroke="#000" stroke-width="1.5"/>
<text x="1253.5" y="199.8" font-size="18.2">3</text>
<line x1="1241.0" y1="107.7" x2="1247.5" y2="107.7" stroke="#000" stroke-width="1.5"/>
<text x="1253.5" y="114.4" font-size="18.2">4</text>
<line x1="1241.0" y1="22.4" x2="1247.5" y2="22.4" stroke="#000" stroke-width="1.5"/>
<text x="1253.5" y="29.1" font-size="18.2">5</text>
<rect x="208.0" y="907.3" width="828.5" height="616.4" fill="#fff" stroke="#000" stroke-width="1.7"/>
<line x1="246.0" y1="1523.7" x2="246.0" y2="1531.7" stroke="#000" stroke-width="1.6"/>
<text x="244.2" y="1557.7" font-size="21.5" text-anchor="middle">0.0</text>
<line x1="396.3" y1="1523.7" x2="396.3" y2="1531.7" stroke="#000" stroke-width="1.6"/>
<text x="394.5" y="1557.7" font-size="21.5" text-anchor="middle">0.2</text>
<line x1="546.6" y1="1523.7" x2="546.6" y2="1531.7" stroke="#000" stroke-width="1.6"/>
<text x="544.8" y="1557.7" font-size="21.5" text-anchor="middle">0.4</text>
<line x1="696.8" y1="1523.7" x2="696.8" y2="1531.7" stroke="#000" stroke-width="1.6"/>
<text x="695.0" y="1557.7" font-size="21.5" text-anchor="middle">0.6</text>
<line x1="847.1" y1="1523.7" x2="847.1" y2="1531.7" stroke="#000" stroke-width="1.6"/>
<text x="845.3" y="1557.7" font-size="21.5" text-anchor="middle">0.8</text>
<line x1="997.4" y1="1523.7" x2="997.4" y2="1531.7" stroke="#000" stroke-width="1.6"/>
<text x="995.6" y="1557.7" font-size="21.5" text-anchor="middle">1.0</text>
<line x1="200.0" y1="1501.7" x2="208.0" y2="1501.7" stroke="#000" stroke-width="1.6"/>
<text x="190.7" y="1509.7" font-size="21.5" text-anchor="end">−1</text>
<line x1="200.0" y1="1404.2" x2="208.0" y2="1404.2" stroke="#000" stroke-width="1.6"/>
<text x="190.7" y="1412.2" font-size="21.5" text-anchor="end">0</text>
<line x1="200.0" y1="1306.7" x2="208.0" y2="1306.7" stroke="#000" stroke-width="1.6"/>
<text x="190.7" y="1314.7" font-size="21.5" text-anchor="end">1</text>
<line x1="200.0" y1="1209.2" x2="208.0" y2="1209.2" stroke="#000" stroke-width="1.6"/>
<text x="190.7" y="1217.2" font-size="21.5" text-anchor="end">2</text>
<line x1="200.0" y1="1111.7" x2="208.0" y2="1111.7" stroke="#000" stroke-width="1.6"/>
<text x="190.7" y="1119.7" font-size="21.5" text-anchor="end">3</text>
<line x1="200.0" y1="1014.2" x2="208.0" y2="1014.2" stroke="#000" stroke-width="1.6"/>
<text x="190.7" y="1022.2" font-size="21.5" text-anchor="end">4</text>
<line x1="200.0" y1="916.7" x2="208.0" y2="916.7" stroke="#000" stroke-width="1.6"/>
<text x="190.7" y="924.7" font-size="21.5" text-anchor="end">5</text>
<g fill="none" stroke-width="3.3" stroke-linejoin="round" filter="url(#soft)">
<path d="M246.0,1496.2 L255.4,1462.3 L261.5,1456.9 L274.6,1434.6 L285.4,1411.5 L291.5,1390.0 L297.7,1370.0 L310.0,1343.1 L319.2,1333.1 L326.9,1330.3 L334.6,1336.2 L343.8,1343.1 L353.1,1356.2 L363.8,1376.2 L374.6,1394.6 L383.8,1411.5 L393.1,1423.8 L400.8,1432.3 L411.5,1442.3 L420.0,1444.6 L428.6,1448.4 L443.1,1441.7 L454.6,1432.1 L466.1,1416.7 L475.7,1399.4 L485.3,1378.3 L496.8,1351.4 L506.5,1326.4 L519.9,1297.6 L531.4,1276.5 L543.0,1253.4 L552.6,1226.5 L564.1,1209.2 L573.5,1189.1 L585.4,1175.5 L595.5,1156.9 L607.4,1134.1 L620.9,1125.6 L634.5,1101.1 L644.6,1077.4 L653.1,1055.4 L661.5,1051.2 L670.0,1030.0 L675.1,1026.6 L683.5,1002.9 L693.7,987.7 L703.8,988.5 L717.4,975.8 L730.9,980.1 L741.1,979.2 L751.2,947.1 L764.8,944.5 L769.6,955.5 L776.4,970.8 L782.3,977.5 L790.8,980.1 L797.5,996.2 L804.3,1002.9 L808.5,1003.8 L812.8,1021.5 L820.4,1060.5 L828.0,1080.8 L834.8,1102.8 L848.3,1138.3 L861.8,1177.2 L865.4,1190.0 L878.0,1229.1 L887.7,1261.3 L900.3,1296.2 L912.9,1329.8 L925.5,1354.9 L935.3,1366.8 L945.0,1375.2 L957.6,1380.8 L968.8,1387.1 L978.6,1394.1 L987.0,1402.4 L998.1,1417.1" stroke="#ff0000" stroke-linecap="square"/>
<path d="M246.0,1475.0 L255.4,1434.6 L261.5,1433.8 L274.6,1425.4 L285.4,1411.5 L291.5,1397.7 L297.7,1385.4 L310.0,1366.9 L319.2,1357.7 L326.9,1355.4 L334.6,1357.7 L343.8,1361.5 L353.1,1368.5 L363.8,1379.2 L374.6,1391.5 L383.8,1402.3 L393.1,1410.0 L400.8,1415.4 L411.5,1420.8 L420.0,1423.4 L428.6,1425.4 L443.1,1421.5 L454.6,1414.8 L466.1,1407.1 L475.7,1398.5 L485.3,1386.0 L496.8,1372.5 L506.5,1361.0 L519.9,1343.7 L531.4,1328.3 L543.0,1309.1 L552.6,1286.1 L564.1,1264.9 L573.7,1245.7 L585.2,1232.3 L592.9,1215.0 L596.4,1210.0 L607.4,1187.4 L622.6,1170.5 L634.5,1140.0 L644.6,1114.6 L653.1,1089.2 L661.5,1080.8 L670.0,1055.4 L678.5,1036.8 L692.0,1007.2 L703.8,1003.8 L717.4,988.5 L730.9,991.1 L741.1,987.7 L751.2,955.5 L764.8,951.3 L769.6,962.3 L776.4,977.5 L782.3,982.6 L790.8,984.3 L797.5,998.7 L804.3,1004.3 L808.5,1004.6 L812.8,1021.5 L820.4,1059.6 L828.0,1079.1 L834.8,1100.2 L848.3,1135.8 L861.8,1172.2 L868.9,1190.0 L881.4,1229.1 L891.9,1261.3 L903.8,1296.2 L915.7,1328.4 L928.3,1350.7 L938.0,1362.6 L946.4,1369.6 L957.6,1373.1 L968.8,1379.4 L978.6,1385.7 L987.0,1395.4 L998.1,1411.5" stroke="#00ff00" stroke-linecap="square"/>
<path d="M246.0,1465.0 L255.4,1417.7 L261.5,1421.5 L274.6,1420.8 L285.4,1408.5 L291.5,1400.8 L297.7,1393.1 L310.0,1379.2 L319.2,1372.3 L326.9,1369.7 L334.6,1370.3 L343.8,1373.8 L353.1,1379.2 L363.8,1385.4 L374.6,1393.1 L383.8,1399.2 L393.1,1405.4 L400.8,1409.2 L411.5,1413.1 L420.0,1413.8 L428.6,1415.7 L443.1,1414.8 L454.6,1410.9 L466.1,1405.2 L475.7,1398.5 L485.3,1391.7 L496.8,1380.2 L506.5,1370.6 L519.9,1357.1 L531.4,1343.7 L543.0,1326.4 L552.6,1309.1 L564.1,1289.9 L573.7,1272.6 L585.2,1255.3 L592.9,1238.0 L604.4,1213.1 L606.5,1210.0 L620.9,1190.8 L634.5,1153.5 L644.6,1128.2 L653.1,1101.1 L661.5,1090.9 L670.0,1065.5 L678.5,1045.2 L692.0,1013.9 L703.8,1009.7 L717.4,992.8 L730.9,996.2 L741.1,992.8 L751.2,959.8 L764.8,956.4 L769.6,967.4 L776.4,980.9 L782.3,986.0 L790.8,986.8 L797.5,1000.4 L804.3,1005.5 L808.5,1006.0 L812.8,1021.5 L820.4,1059.1 L828.0,1078.2 L834.8,1098.5 L848.3,1134.1 L861.8,1170.5 L870.3,1190.0 L882.8,1229.1 L893.3,1261.3 L905.2,1296.2 L917.1,1327.0 L929.7,1347.9 L939.4,1359.8 L946.4,1366.8 L957.6,1370.3 L968.8,1376.6 L978.6,1382.9 L987.0,1392.7 L998.1,1409.4" stroke="#0000ff" stroke-linecap="square"/>
<path d="M246.0,1450.0 L253.8,1404.6 L261.5,1411.5 L274.6,1416.9 L285.4,1416.2 L291.5,1408.5 L297.7,1400.0 L310.0,1390.0 L319.2,1384.6 L326.9,1382.3 L334.6,1382.0 L343.8,1382.3 L353.1,1384.6 L363.8,1387.7 L374.6,1391.5 L383.8,1394.6 L393.1,1397.7 L400.8,1400.0 L411.5,1402.3 L420.0,1403.3 L428.6,1405.6 L443.1,1407.1 L454.6,1406.1 L466.1,1403.3 L475.7,1399.4 L485.3,1395.6 L496.8,1389.8 L506.5,1383.1 L519.9,1372.5 L531.4,1362.9 L543.0,1351.4 L552.6,1337.9 L564.1,1318.7 L573.7,1303.4 L585.2,1284.1 L592.9,1264.9 L604.4,1238.0 L620.0,1209.2 L634.5,1173.8 L644.6,1143.4 L653.1,1118.0 L661.5,1102.8 L670.0,1075.7 L678.5,1055.4 L692.0,1023.2 L703.8,1017.3 L717.4,998.7 L730.9,1001.2 L741.1,997.8 L751.2,963.2 L764.8,959.8 L769.6,972.5 L776.4,985.2 L782.3,989.4 L790.8,990.2 L797.5,1002.9 L804.3,1007.2 L808.5,1007.7 L812.8,1023.2 L820.4,1057.9 L828.0,1076.5 L834.8,1096.9 L848.3,1132.4 L861.8,1167.9 L872.4,1190.0 L884.9,1229.1 L895.4,1261.3 L907.3,1296.2 L919.2,1324.2 L931.1,1344.4 L940.8,1357.0 L947.8,1363.3 L957.6,1366.1 L968.8,1372.4 L978.6,1379.4 L987.0,1389.2 L998.1,1406.6" stroke="#00ffff" stroke-linecap="square"/>
<path d="M246.0,1403.5 L571.8,1403.5 L576.6,1414.8 L579.5,1382.0 L582.3,1359.0 L583.3,1391.7 L586.2,1486.0 L588.1,1380.0 L589.6,1200.0 L590.0,1040.0 L590.5,1028.3 L592.2,1019.8 L595.5,1023.2 L599.8,1005.5 L603.2,1016.5 L609.1,1013.0 L866.9,1013.0 L870.3,1011.4 L875.4,1002.9 L876.2,987.7 L877.1,1010.0 L878.8,1210.0 L880.0,1300.0 L882.1,1402.4 L883.5,1427.6 L885.6,1413.6 L887.5,1404.0 L889.8,1413.6 L893.3,1403.3 L998.1,1403.3" stroke="#000" stroke-dasharray="12.9 5.4"/>
<path d="M246.0,1462.3 L255.4,1443.8 L261.5,1436.2 L274.6,1419.2 L285.4,1400.8 L291.5,1388.5 L297.7,1377.7 L310.0,1363.8 L319.2,1357.7 L326.9,1357.7 L334.6,1362.3 L343.8,1373.1 L353.1,1385.4 L363.8,1400.8 L374.6,1413.1 L383.8,1423.8 L393.1,1433.1 L400.8,1437.7 L411.5,1441.5 L420.0,1440.7 L428.6,1437.8 L443.1,1426.3 L454.6,1410.9 L466.1,1391.7 L475.7,1372.5 L485.3,1351.4 L496.8,1328.3 L506.5,1309.1 L519.9,1286.1 L531.4,1270.7 L543.0,1255.3 L552.6,1232.3 L564.1,1218.8 L575.6,1209.2 L588.8,1199.2 L602.3,1180.6 L622.6,1170.5 L634.5,1156.9 L648.0,1126.5 L661.5,1116.3 L675.1,1089.2 L692.0,1046.9 L705.5,1033.4 L719.1,1013.1 L736.0,999.5 L742.8,992.8 L751.2,950.5 L763.7,934.4 L768.8,936.9 L778.9,951.3 L789.1,946.2 L797.5,961.5 L806.0,958.9 L809.4,954.7 L814.5,984.3 L822.9,1014.8 L834.8,1048.6 L848.3,1085.8 L861.8,1131.5 L873.7,1173.8 L878.7,1190.0 L883.5,1218.0 L891.9,1248.7 L901.7,1287.8 L911.5,1324.2 L919.9,1352.1 L931.1,1378.7 L942.2,1398.2 L953.4,1405.9 L967.4,1408.0 L978.6,1403.8 L992.6,1395.4 L998.1,1406.6" stroke="#0000ff" stroke-dasharray="12.9 5.4"/>
</g>
<rect x="219.3" y="918.8" width="219.2" height="214.8" rx="4" ry="4" fill="#fff" fill-opacity="0.8" stroke="#cccccc" stroke-width="1.6"/>
<line x1="228.4" y1="936.7" x2="274.4" y2="936.7" stroke="#ff0000" stroke-width="3.3" stroke-linecap="square"/>
<text x="292.5" y="944.7" font-size="23">one term</text>
<line x1="228.4" y1="971.7" x2="274.4" y2="971.7" stroke="#00ff00" stroke-width="3.3" stroke-linecap="square"/>
<text x="292.5" y="979.7" font-size="23">two terms</text>
<line x1="228.4" y1="1006.7" x2="274.4" y2="1006.7" stroke="#0000ff" stroke-width="3.3" stroke-linecap="square"/>
<text x="292.5" y="1014.7" font-size="23">three terms</text>
<line x1="228.4" y1="1041.7" x2="274.4" y2="1041.7" stroke="#00ffff" stroke-width="3.3" stroke-linecap="square"/>
<text x="292.5" y="1049.7" font-size="23">four terms</text>
<line x1="228.4" y1="1076.7" x2="274.4" y2="1076.7" stroke="#000" stroke-width="3.3" stroke-dasharray="12.9 5.4"/>
<text x="292.5" y="1084.7" font-size="23">true beta</text>
<line x1="228.4" y1="1111.7" x2="274.4" y2="1111.7" stroke="#0000ff" stroke-width="3.3" stroke-dasharray="12.9 5.4"/>
<text x="292.5" y="1119.7" font-size="23">projection</text>
<g class="cap">
<text class="cap" x="160.0" y="791.5" font-size="45.0" textLength="11.5" lengthAdjust="spacingAndGlyphs" >(</text>
<text class="cap" x="176.5" y="790.0" font-size="31.5" textLength="25.5" lengthAdjust="spacingAndGlyphs" >A</text>
<text class="cap" x="203.0" y="791.5" font-size="45.0" textLength="11.5" lengthAdjust="spacingAndGlyphs" >)</text>
<text class="cap" x="239.2" y="790.0" font-size="41.5" textLength="287.3" lengthAdjust="spacingAndGlyphs" >Reconstruction</text>
<text class="cap" x="543.8" y="790.0" font-size="41.5" textLength="33.2" lengthAdjust="spacingAndGlyphs" >of</text>
<text class="cap" x="597.5" y="790.0" font-size="41.5" textLength="72.9" lengthAdjust="spacingAndGlyphs" >disk</text>
<text class="cap" x="687.7" y="790.0" font-size="41.5" textLength="131.5" lengthAdjust="spacingAndGlyphs" >shaped</text>
<text class="cap" x="837.7" y="790.0" font-size="41.5" textLength="166.1" lengthAdjust="spacingAndGlyphs" >inclusion</text>
<text class="cap" x="1023.0" y="790.0" font-size="41.0" textLength="25.0" lengthAdjust="spacingAndGlyphs" font-style="italic" fill="#222">β</text>
<text class="cap" x="1051.0" y="790.0" font-size="41.5" >.</text>
<text class="cap" x="82.2" y="1676.5" font-size="45.0" textLength="11.5" lengthAdjust="spacingAndGlyphs" >(</text>
<text class="cap" x="98.5" y="1675.0" font-size="31.5" textLength="23.5" lengthAdjust="spacingAndGlyphs" >B</text>
<text class="cap" x="126.0" y="1676.5" font-size="45.0" textLength="11.5" lengthAdjust="spacingAndGlyphs" >)</text>
<text class="cap" x="160.6" y="1675.0" font-size="41.5" textLength="102.5" lengthAdjust="spacingAndGlyphs" >Cross</text>
<text class="cap" x="280.6" y="1675.0" font-size="41.5" textLength="132.5" lengthAdjust="spacingAndGlyphs" >section</text>
<text class="cap" x="431.5" y="1675.0" font-size="41.5" textLength="33.0" lengthAdjust="spacingAndGlyphs" >of</text>
<text class="cap" x="480.0" y="1675.0" font-size="41.5" textLength="272.2" lengthAdjust="spacingAndGlyphs" >reconstruction</text>
<text class="cap" x="771.5" y="1675.0" font-size="41.5" textLength="33.0" lengthAdjust="spacingAndGlyphs" >of</text>
<text class="cap" x="821.4" y="1675.0" font-size="41.5" textLength="73.8" lengthAdjust="spacingAndGlyphs" >disk</text>
<text class="cap" x="915.5" y="1675.0" font-size="41.5" textLength="165.3" lengthAdjust="spacingAndGlyphs" >inclusion</text>
<text class="cap" x="1099.2" y="1675.0" font-size="41.0" textLength="25.4" lengthAdjust="spacingAndGlyphs" font-style="italic" fill="#222">β</text>
<text class="cap" x="1127.5" y="1675.0" font-size="41.5" >.</text>
</g>
</svg></body></html>
